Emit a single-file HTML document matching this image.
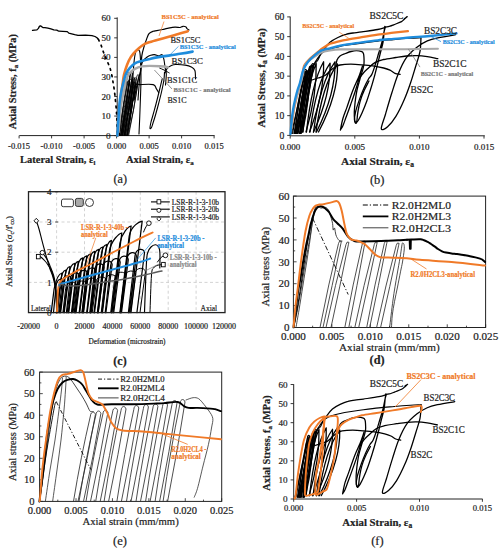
<!DOCTYPE html>
<html><head><meta charset="utf-8"><style>
html,body{margin:0;padding:0;background:#fff;}
svg{display:block;}
text{font-family:"Liberation Serif",serif;}
</style></head><body>
<svg width="503" height="550" viewBox="0 0 503 550">
<rect width="503" height="550" fill="#fff"/>
<line x1="19.30" y1="135.60" x2="214.60" y2="135.60" stroke="#222" stroke-width="1.0" />
<line x1="19.10" y1="135.60" x2="19.10" y2="138.40" stroke="#222" stroke-width="0.9" />
<line x1="51.60" y1="135.60" x2="51.60" y2="138.40" stroke="#222" stroke-width="0.9" />
<line x1="84.10" y1="135.60" x2="84.10" y2="138.40" stroke="#222" stroke-width="0.9" />
<line x1="116.60" y1="135.60" x2="116.60" y2="138.40" stroke="#222" stroke-width="0.9" />
<line x1="149.10" y1="135.60" x2="149.10" y2="138.40" stroke="#222" stroke-width="0.9" />
<line x1="181.60" y1="135.60" x2="181.60" y2="138.40" stroke="#222" stroke-width="0.9" />
<line x1="214.10" y1="135.60" x2="214.10" y2="138.40" stroke="#222" stroke-width="0.9" />
<line x1="117.20" y1="17.40" x2="117.20" y2="135.60" stroke="#222" stroke-width="1.0" />
<line x1="114.20" y1="135.60" x2="117.20" y2="135.60" stroke="#222" stroke-width="0.9" />
<text x="110.60" y="138.60" font-family="Liberation Serif" font-size="9.2" text-anchor="end" font-weight="normal" fill="#222" stroke="#222" stroke-width="0.2" >0</text>
<line x1="114.20" y1="116.05" x2="117.20" y2="116.05" stroke="#222" stroke-width="0.9" />
<text x="110.60" y="119.05" font-family="Liberation Serif" font-size="9.2" text-anchor="end" font-weight="normal" fill="#222" stroke="#222" stroke-width="0.2" >10</text>
<line x1="114.20" y1="96.50" x2="117.20" y2="96.50" stroke="#222" stroke-width="0.9" />
<text x="110.60" y="99.50" font-family="Liberation Serif" font-size="9.2" text-anchor="end" font-weight="normal" fill="#222" stroke="#222" stroke-width="0.2" >20</text>
<line x1="114.20" y1="76.95" x2="117.20" y2="76.95" stroke="#222" stroke-width="0.9" />
<text x="110.60" y="79.95" font-family="Liberation Serif" font-size="9.2" text-anchor="end" font-weight="normal" fill="#222" stroke="#222" stroke-width="0.2" >30</text>
<line x1="114.20" y1="57.40" x2="117.20" y2="57.40" stroke="#222" stroke-width="0.9" />
<text x="110.60" y="60.40" font-family="Liberation Serif" font-size="9.2" text-anchor="end" font-weight="normal" fill="#222" stroke="#222" stroke-width="0.2" >40</text>
<line x1="114.20" y1="37.85" x2="117.20" y2="37.85" stroke="#222" stroke-width="0.9" />
<text x="110.60" y="40.85" font-family="Liberation Serif" font-size="9.2" text-anchor="end" font-weight="normal" fill="#222" stroke="#222" stroke-width="0.2" >50</text>
<line x1="114.20" y1="18.30" x2="117.20" y2="18.30" stroke="#222" stroke-width="0.9" />
<text x="110.60" y="21.30" font-family="Liberation Serif" font-size="9.2" text-anchor="end" font-weight="normal" fill="#222" stroke="#222" stroke-width="0.2" >60</text>
<text x="19.10" y="148.60" font-family="Liberation Serif" font-size="8.5" text-anchor="middle" font-weight="normal" fill="#222" stroke="#222" stroke-width="0.2" >-0.015</text>
<text x="51.60" y="148.60" font-family="Liberation Serif" font-size="8.5" text-anchor="middle" font-weight="normal" fill="#222" stroke="#222" stroke-width="0.2" >-0.010</text>
<text x="84.10" y="148.60" font-family="Liberation Serif" font-size="8.5" text-anchor="middle" font-weight="normal" fill="#222" stroke="#222" stroke-width="0.2" >-0.005</text>
<text x="116.60" y="148.60" font-family="Liberation Serif" font-size="8.5" text-anchor="middle" font-weight="normal" fill="#222" stroke="#222" stroke-width="0.2" >0.000</text>
<text x="149.10" y="148.60" font-family="Liberation Serif" font-size="8.5" text-anchor="middle" font-weight="normal" fill="#222" stroke="#222" stroke-width="0.2" >0.005</text>
<text x="181.60" y="148.60" font-family="Liberation Serif" font-size="8.5" text-anchor="middle" font-weight="normal" fill="#222" stroke="#222" stroke-width="0.2" >0.010</text>
<text x="214.10" y="148.60" font-family="Liberation Serif" font-size="8.5" text-anchor="middle" font-weight="normal" fill="#222" stroke="#222" stroke-width="0.2" >0.015</text>
<text x="20.00" y="163.20" font-family="Liberation Serif" font-size="10.5" text-anchor="start" font-weight="bold" fill="#222" stroke="#222" stroke-width="0.2" >Lateral Strain, ε<tspan font-size="7" dy="1.8">l</tspan></text>
<text x="126.00" y="163.20" font-family="Liberation Serif" font-size="10.5" text-anchor="start" font-weight="bold" fill="#222" stroke="#222" stroke-width="0.2" >Axial Strain, ε<tspan font-size="7" dy="1.8">a</tspan></text>
<text x="120.20" y="183.20" font-family="Liberation Serif" font-size="12.2" text-anchor="middle" font-weight="normal" fill="#222" stroke="#222" stroke-width="0.2" >(a)</text>
<text transform="translate(16.0,81.7) rotate(-90)" font-family="Liberation Serif" font-size="10.35" font-weight="bold" text-anchor="middle" fill="#222" stroke="#222" stroke-width="0.2">Axial Stress, f<tspan font-size="7" dy="1.8">a</tspan><tspan dy="-1.8"> (MPa)</tspan></text>
<polyline points="32.5,30.4 34.5,30.1 36.9,29.9 38.4,28.4 39.4,26.4 40.4,25.8 41.4,26.4 42.9,27.6 44.9,27.6 47.9,28.2 50.9,28.9 53.8,29.9 56.8,30.1 58.8,31.2 62.8,31.4 67.3,31.6 68.8,33.1 71.7,33.9 74.7,34.7 78.0,35.4 85.5,35.2 92.0,35.6 95.0,36.5 97.0,37.8 98.5,39.5" fill="none" stroke="#000" stroke-width="1.3" stroke-linejoin="round" stroke-linecap="round" />
<path d="M98.5,39.5 C98.9,40.4 100.2,43.1 101.0,45.0 C101.8,46.9 102.3,49.2 103.0,51.0 C103.7,52.8 104.2,54.0 105.0,56.0 C105.8,58.0 107.2,61.0 108.0,63.0 C108.8,65.0 109.3,65.8 110.0,68.0 C110.7,70.2 111.5,73.7 112.0,76.0 C112.5,78.3 112.7,80.0 113.0,82.0 C113.3,84.0 113.7,85.7 114.0,88.0 C114.3,90.3 114.7,93.0 115.0,96.0 C115.3,99.0 115.7,103.0 116.0,106.0 C116.3,109.0 116.4,111.3 116.6,114.0 C116.8,116.7 116.9,118.7 117.0,122.0 C117.1,125.3 117.3,132.0 117.4,134.0" fill="none" stroke="#000" stroke-width="1.7" stroke-linejoin="round" stroke-linecap="round" stroke-dasharray="1.7,4.6" stroke-linecap="butt"/>
<path d="M117.7,135.4 Q123.1,108.1 128.0,81.9 Q129.0,80.1 130.0,81.9 Q125.1,111.1 119.5,135.4" fill="none" stroke="#000" stroke-width="0.8" stroke-linejoin="round" stroke-linecap="round" />
<path d="M118.7,135.4 Q124.4,107.3 129.7,80.2 Q130.7,78.4 131.7,80.2 Q126.5,110.3 120.6,135.4" fill="none" stroke="#000" stroke-width="0.8" stroke-linejoin="round" stroke-linecap="round" />
<path d="M119.2,135.4 Q122.9,107.8 127.7,81.2 Q128.7,79.4 129.7,81.2 Q125.9,110.8 120.5,135.4" fill="none" stroke="#000" stroke-width="0.8" stroke-linejoin="round" stroke-linecap="round" />
<path d="M119.3,135.4 Q123.4,104.0 127.8,73.6 Q128.8,71.8 129.8,73.6 Q126.7,107.0 121.9,135.4" fill="none" stroke="#000" stroke-width="0.8" stroke-linejoin="round" stroke-linecap="round" />
<path d="M120.8,135.4 Q125.7,103.9 130.7,73.5 Q131.7,71.7 132.7,73.5 Q128.2,106.9 122.5,135.4" fill="none" stroke="#000" stroke-width="0.8" stroke-linejoin="round" stroke-linecap="round" />
<path d="M121.1,135.4 Q126.4,106.3 132.6,78.2 Q133.6,76.4 134.6,78.2 Q129.4,109.3 122.5,135.4" fill="none" stroke="#000" stroke-width="0.8" stroke-linejoin="round" stroke-linecap="round" />
<path d="M121.5,135.4 Q127.5,106.9 133.1,79.3 Q134.1,77.5 135.1,79.3 Q129.7,109.9 123.5,135.4" fill="none" stroke="#000" stroke-width="0.8" stroke-linejoin="round" stroke-linecap="round" />
<path d="M122.1,135.4 Q126.6,104.0 130.3,73.5 Q131.3,71.7 132.3,73.5 Q128.8,107.0 124.5,135.4" fill="none" stroke="#000" stroke-width="0.8" stroke-linejoin="round" stroke-linecap="round" />
<path d="M122.9,135.4 Q126.9,110.5 131.2,86.6 Q132.2,84.8 133.2,86.6 Q130.2,113.5 125.4,135.4" fill="none" stroke="#000" stroke-width="0.8" stroke-linejoin="round" stroke-linecap="round" />
<path d="M124.1,135.4 Q128.8,108.8 133.7,83.2 Q134.7,81.4 135.7,83.2 Q131.1,111.8 125.5,135.4" fill="none" stroke="#000" stroke-width="0.8" stroke-linejoin="round" stroke-linecap="round" />
<path d="M124.3,135.4 Q128.6,110.2 132.5,85.9 Q133.5,84.1 134.5,85.9 Q131.1,113.2 126.7,135.4" fill="none" stroke="#000" stroke-width="0.8" stroke-linejoin="round" stroke-linecap="round" />
<path d="M124.6,135.4 Q129.6,106.4 134.1,78.4 Q135.1,76.6 136.1,78.4 Q132.2,109.4 127.2,135.4" fill="none" stroke="#000" stroke-width="0.8" stroke-linejoin="round" stroke-linecap="round" />
<path d="M125.0,135.4 Q129.1,108.7 132.8,83.1 Q133.8,81.3 134.8,83.1 Q131.8,111.7 127.6,135.4" fill="none" stroke="#000" stroke-width="0.8" stroke-linejoin="round" stroke-linecap="round" />
<path d="M126.5,135.4 Q131.0,108.9 136.0,83.5 Q137.0,81.7 138.0,83.5 Q133.7,111.9 128.0,135.4" fill="none" stroke="#000" stroke-width="0.8" stroke-linejoin="round" stroke-linecap="round" />
<path d="M127.2,135.4 Q132.1,105.0 137.0,75.5 Q138.0,73.7 139.0,75.5 Q134.3,108.0 128.7,135.4" fill="none" stroke="#000" stroke-width="0.8" stroke-linejoin="round" stroke-linecap="round" />
<path d="M134.0,100.0 C134.7,96.7 136.9,84.8 138.0,80.0 C139.1,75.2 140.0,75.3 140.6,71.3 C141.2,67.3 141.2,60.0 141.8,55.8 C142.4,51.6 143.4,49.0 144.2,46.2 C145.0,43.4 145.8,41.2 146.6,39.1 C147.4,37.0 147.9,35.0 149.0,33.7 C150.1,32.4 151.9,31.8 153.2,31.3 C154.5,30.8 155.2,31.0 156.8,30.7 C158.4,30.4 160.9,29.9 162.7,29.5 C164.5,29.1 165.4,28.8 167.5,28.4 C169.6,28.0 172.9,27.3 175.0,27.2 C177.1,27.1 178.7,27.6 180.0,27.5 C181.3,27.4 182.0,26.4 183.0,26.3 C184.0,26.2 185.3,26.5 186.0,26.9 C186.7,27.3 186.5,28.2 187.0,28.7 C187.5,29.2 188.7,29.8 189.0,30.0" fill="none" stroke="#000" stroke-width="1.2" stroke-linejoin="round" stroke-linecap="round" />
<path d="M130.0,120.0 C130.5,112.5 132.2,85.3 133.0,75.0 C133.8,64.7 133.9,62.2 134.5,58.0 C135.1,53.8 135.7,51.2 136.5,50.0 C137.3,48.8 138.8,49.3 139.5,51.0 C140.2,52.7 140.2,55.2 140.5,60.0 C140.8,64.8 141.1,71.7 141.0,80.0 C140.9,88.3 140.3,101.0 140.0,110.0 C139.7,119.0 139.2,130.0 139.0,134.0" fill="none" stroke="#000" stroke-width="1.1" stroke-linejoin="round" stroke-linecap="round" />
<path d="M138.0,100.0 C138.3,95.8 139.3,81.3 140.0,75.0 C140.7,68.7 141.2,65.0 142.4,62.0 C143.6,59.0 145.8,58.1 147.2,57.0 C148.6,55.9 149.6,55.6 150.8,55.2 C152.0,54.8 153.0,54.5 154.4,54.6 C155.8,54.7 157.8,55.8 159.1,55.8 C160.4,55.8 161.3,54.0 162.1,54.6 C162.9,55.2 163.4,57.2 163.9,59.4 C164.4,61.6 164.7,65.3 165.1,67.7 C165.5,70.1 166.2,70.8 166.3,73.7 C166.4,76.6 165.6,83.1 165.5,85.0" fill="none" stroke="#000" stroke-width="1.1" stroke-linejoin="round" stroke-linecap="round" />
<path d="M165.0,72.9 C165.4,72.1 166.4,69.3 167.4,68.1 C168.4,66.9 169.6,66.3 171.0,65.7 C172.4,65.1 173.4,64.6 175.8,64.5 C178.2,64.4 182.7,64.7 185.3,65.1 C187.9,65.5 189.7,66.0 191.3,66.9 C192.9,67.8 194.2,68.5 194.9,70.5 C195.6,72.5 195.4,77.5 195.5,78.9" fill="none" stroke="#000" stroke-width="1.1" stroke-linejoin="round" stroke-linecap="round" />
<path d="M159.7,68.1 C160.4,68.4 162.4,69.2 164.0,70.0 C165.6,70.8 168.3,72.4 169.2,72.9" fill="none" stroke="#000" stroke-width="1.0" stroke-linejoin="round" stroke-linecap="round" />
<path d="M134.0,100.0 C134.3,97.6 134.7,88.0 135.7,85.4 C136.7,82.8 137.1,84.7 140.0,84.6 C142.9,84.5 150.5,83.9 153.2,84.6 C155.9,85.3 155.4,87.3 156.3,88.6 C157.2,89.9 158.3,91.9 158.7,92.6" fill="none" stroke="#000" stroke-width="1.1" stroke-linejoin="round" stroke-linecap="round" />
<path d="M162.2,78.9 C161.7,81.1 160.0,87.8 159.0,92.0 C158.0,96.2 157.0,100.2 156.0,104.0 C155.0,107.8 153.8,112.0 153.0,115.0 C152.2,118.0 151.5,119.8 151.0,122.0 C150.5,124.2 149.9,127.5 150.0,128.4 C150.1,129.3 151.0,128.4 151.5,127.5 C152.0,126.6 152.3,125.1 153.0,123.0 C153.7,120.9 154.6,118.2 155.5,115.0 C156.4,111.8 157.5,107.8 158.5,104.0 C159.5,100.2 160.6,96.0 161.5,92.0 C162.4,88.0 163.4,83.3 163.9,80.0 C164.4,76.7 164.4,73.3 164.5,72.0" fill="none" stroke="#000" stroke-width="1.1" stroke-linejoin="round" stroke-linecap="round" />
<path d="M117.6,135.6 C117.7,133.8 118.0,128.6 118.3,125.0 C118.5,121.4 118.8,117.5 119.1,114.0 C119.4,110.5 119.7,107.2 120.0,104.0 C120.3,100.8 120.6,98.2 121.0,95.0 C121.4,91.8 122.0,88.4 122.5,85.0 C123.0,81.6 123.2,78.1 124.0,74.8 C124.8,71.5 125.8,67.9 127.0,64.9 C128.2,61.9 129.4,59.2 130.9,56.9 C132.4,54.6 133.9,53.0 135.9,51.0 C137.9,49.0 140.6,46.5 142.9,45.0 C145.2,43.5 146.7,43.1 150.0,42.0 C153.3,40.9 158.5,39.6 162.7,38.4 C166.9,37.2 170.8,36.2 175.0,35.0 C179.2,33.8 185.7,31.8 187.8,31.2" fill="none" stroke="#F07A28" stroke-width="2.6" stroke-linejoin="round" stroke-linecap="round" />
<path d="M118.5,132.0 C118.8,129.2 119.5,119.8 120.0,115.0 C120.5,110.2 121.0,106.3 121.5,103.0 C122.0,99.7 122.5,97.5 123.0,95.0 C123.5,92.5 124.1,90.5 124.6,88.0 C125.1,85.5 125.1,82.3 126.0,79.8 C126.9,77.3 128.4,74.6 129.9,72.8 C131.4,71.0 132.9,70.0 134.9,68.9 C136.9,67.8 139.4,66.9 141.9,66.4 C144.4,65.9 146.8,65.9 149.8,65.9 C152.8,65.9 157.0,66.1 160.0,66.3 C163.0,66.5 166.7,67.0 168.0,67.2" fill="none" stroke="#A8A8A8" stroke-width="2.4" stroke-linejoin="round" stroke-linecap="round" />
<path d="M117.4,135.6 C117.5,133.9 117.8,128.9 118.0,125.5 C118.2,122.1 118.5,118.9 118.7,115.3 C119.0,111.7 119.1,107.3 119.5,103.7 C119.9,100.1 120.3,96.8 120.9,93.5 C121.5,90.2 122.2,87.3 123.0,84.0 C123.8,80.7 124.8,76.5 126.0,73.8 C127.2,71.1 128.4,69.6 129.9,67.9 C131.4,66.2 133.2,64.5 134.9,63.4 C136.6,62.3 137.4,62.1 139.9,61.4 C142.4,60.6 146.5,59.6 149.8,58.9 C153.1,58.1 156.4,57.5 159.8,56.9 C163.2,56.3 166.6,55.9 170.0,55.4 C173.4,54.9 176.2,54.4 180.0,53.8 C183.8,53.2 190.5,52.0 192.6,51.6" fill="none" stroke="#1E8CDC" stroke-width="2.6" stroke-linejoin="round" stroke-linecap="round" />
<line x1="164.00" y1="21.50" x2="159.00" y2="36.00" stroke="#F07A28" stroke-width="0.7" />
<line x1="178.50" y1="46.30" x2="168.60" y2="56.20" stroke="#1E8CDC" stroke-width="0.7" />
<line x1="154.40" y1="70.00" x2="172.00" y2="89.00" stroke="#666" stroke-width="0.7" />
<text x="161.50" y="19.20" font-family="Liberation Serif" font-size="6.6" text-anchor="start" font-weight="bold" fill="#F07A28" stroke="#F07A28" stroke-width="0.2" textLength="57.3" lengthAdjust="spacingAndGlyphs" >BS1C5C - analytical</text>
<text x="179.70" y="48.80" font-family="Liberation Serif" font-size="6.6" text-anchor="start" font-weight="bold" fill="#1E8CDC" stroke="#1E8CDC" stroke-width="0.2" textLength="56" lengthAdjust="spacingAndGlyphs" >BS1C3C - analytical</text>
<text x="173.50" y="91.60" font-family="Liberation Serif" font-size="6.6" text-anchor="start" font-weight="bold" fill="#777" stroke="#777" stroke-width="0.2" textLength="57.2" lengthAdjust="spacingAndGlyphs" >BS1C1C - analytical</text>
<text x="170.40" y="42.80" font-family="Liberation Serif" font-size="8.6" text-anchor="start" font-weight="normal" fill="#222" stroke="#222" stroke-width="0.2" textLength="30" lengthAdjust="spacingAndGlyphs" >BS1C5C</text>
<text x="171.60" y="63.60" font-family="Liberation Serif" font-size="8.6" text-anchor="start" font-weight="normal" fill="#222" stroke="#222" stroke-width="0.2" textLength="31.2" lengthAdjust="spacingAndGlyphs" >BS1C3C</text>
<text x="167.00" y="82.70" font-family="Liberation Serif" font-size="8.6" text-anchor="start" font-weight="normal" fill="#222" stroke="#222" stroke-width="0.2" textLength="30.3" lengthAdjust="spacingAndGlyphs" >BS1C1C</text>
<text x="167.50" y="103.20" font-family="Liberation Serif" font-size="8.6" text-anchor="start" font-weight="normal" fill="#222" stroke="#222" stroke-width="0.2" textLength="19.1" lengthAdjust="spacingAndGlyphs" >BS1C</text>
<line x1="290.20" y1="135.80" x2="484.80" y2="135.80" stroke="#222" stroke-width="1.0" />
<line x1="290.20" y1="135.80" x2="290.20" y2="138.60" stroke="#222" stroke-width="0.9" />
<line x1="354.80" y1="135.80" x2="354.80" y2="138.60" stroke="#222" stroke-width="0.9" />
<line x1="419.40" y1="135.80" x2="419.40" y2="138.60" stroke="#222" stroke-width="0.9" />
<line x1="484.00" y1="135.80" x2="484.00" y2="138.60" stroke="#222" stroke-width="0.9" />
<line x1="290.20" y1="16.60" x2="290.20" y2="135.80" stroke="#222" stroke-width="1.0" />
<line x1="287.20" y1="135.40" x2="290.20" y2="135.40" stroke="#222" stroke-width="0.9" />
<text x="284.30" y="138.60" font-family="Liberation Serif" font-size="9.6" text-anchor="end" font-weight="normal" fill="#222" stroke="#222" stroke-width="0.2" >0</text>
<line x1="287.20" y1="115.65" x2="290.20" y2="115.65" stroke="#222" stroke-width="0.9" />
<text x="284.30" y="118.85" font-family="Liberation Serif" font-size="9.6" text-anchor="end" font-weight="normal" fill="#222" stroke="#222" stroke-width="0.2" >10</text>
<line x1="287.20" y1="95.90" x2="290.20" y2="95.90" stroke="#222" stroke-width="0.9" />
<text x="284.30" y="99.10" font-family="Liberation Serif" font-size="9.6" text-anchor="end" font-weight="normal" fill="#222" stroke="#222" stroke-width="0.2" >20</text>
<line x1="287.20" y1="76.15" x2="290.20" y2="76.15" stroke="#222" stroke-width="0.9" />
<text x="284.30" y="79.35" font-family="Liberation Serif" font-size="9.6" text-anchor="end" font-weight="normal" fill="#222" stroke="#222" stroke-width="0.2" >30</text>
<line x1="287.20" y1="56.40" x2="290.20" y2="56.40" stroke="#222" stroke-width="0.9" />
<text x="284.30" y="59.60" font-family="Liberation Serif" font-size="9.6" text-anchor="end" font-weight="normal" fill="#222" stroke="#222" stroke-width="0.2" >40</text>
<line x1="287.20" y1="36.65" x2="290.20" y2="36.65" stroke="#222" stroke-width="0.9" />
<text x="284.30" y="39.85" font-family="Liberation Serif" font-size="9.6" text-anchor="end" font-weight="normal" fill="#222" stroke="#222" stroke-width="0.2" >50</text>
<line x1="287.20" y1="16.90" x2="290.20" y2="16.90" stroke="#222" stroke-width="0.9" />
<text x="284.30" y="20.10" font-family="Liberation Serif" font-size="9.6" text-anchor="end" font-weight="normal" fill="#222" stroke="#222" stroke-width="0.2" >60</text>
<text x="290.20" y="149.80" font-family="Liberation Serif" font-size="9" text-anchor="middle" font-weight="normal" fill="#222" stroke="#222" stroke-width="0.2" >0.000</text>
<text x="354.80" y="149.80" font-family="Liberation Serif" font-size="9" text-anchor="middle" font-weight="normal" fill="#222" stroke="#222" stroke-width="0.2" >0.005</text>
<text x="419.40" y="149.80" font-family="Liberation Serif" font-size="9" text-anchor="middle" font-weight="normal" fill="#222" stroke="#222" stroke-width="0.2" >0.010</text>
<text x="484.00" y="149.80" font-family="Liberation Serif" font-size="9" text-anchor="middle" font-weight="normal" fill="#222" stroke="#222" stroke-width="0.2" >0.015</text>
<text x="341.00" y="164.80" font-family="Liberation Serif" font-size="11.3" text-anchor="start" font-weight="bold" fill="#222" stroke="#222" stroke-width="0.2" >Axial Strain, ε<tspan font-size="7.5" dy="1.8">a</tspan></text>
<text x="377.20" y="184.00" font-family="Liberation Serif" font-size="12.5" text-anchor="middle" font-weight="normal" fill="#222" stroke="#222" stroke-width="0.2" >(b)</text>
<text transform="translate(265.4,77.8) rotate(-90)" font-family="Liberation Serif" font-size="10.8" font-weight="bold" text-anchor="middle" fill="#222" stroke="#222" stroke-width="0.2">Axial Stress, f<tspan font-size="7.5" dy="1.8">a</tspan><tspan dy="-1.8"> (MPa)</tspan></text>
<g id="bk">
<path d="M291.5,133.5 Q298.3,102.5 305.6,72.4 Q306.6,70.6 307.6,72.4 Q302.0,105.5 294.2,133.5" fill="none" stroke="#000" stroke-width="1.15" stroke-linejoin="round" stroke-linecap="round" />
<path d="M292.6,133.5 Q297.7,104.8 303.1,77.1 Q304.1,75.3 305.1,77.1 Q301.2,107.8 295.3,133.5" fill="none" stroke="#000" stroke-width="1.15" stroke-linejoin="round" stroke-linecap="round" />
<path d="M294.1,133.5 Q298.9,102.3 304.4,72.1 Q305.4,70.3 306.4,72.1 Q301.8,105.3 295.6,133.5" fill="none" stroke="#000" stroke-width="1.15" stroke-linejoin="round" stroke-linecap="round" />
<path d="M294.8,133.5 Q298.9,101.4 304.6,70.4 Q305.6,68.6 306.6,70.4 Q302.7,104.4 296.3,133.5" fill="none" stroke="#000" stroke-width="1.15" stroke-linejoin="round" stroke-linecap="round" />
<path d="M295.9,133.5 Q300.7,102.1 306.4,71.8 Q307.4,70.0 308.4,71.8 Q303.6,105.1 297.2,133.5" fill="none" stroke="#000" stroke-width="1.15" stroke-linejoin="round" stroke-linecap="round" />
<path d="M296.4,133.5 Q301.3,102.4 306.1,72.4 Q307.1,70.6 308.1,72.4 Q303.3,105.4 297.8,133.5" fill="none" stroke="#000" stroke-width="1.15" stroke-linejoin="round" stroke-linecap="round" />
<path d="M297.1,133.5 Q304.5,98.5 311.9,64.5 Q312.9,62.7 313.9,64.5 Q307.7,101.5 299.9,133.5" fill="none" stroke="#000" stroke-width="1.15" stroke-linejoin="round" stroke-linecap="round" />
<path d="M298.1,133.5 Q303.0,101.3 309.2,70.1 Q310.2,68.3 311.2,70.1 Q307.1,104.3 300.3,133.5" fill="none" stroke="#000" stroke-width="1.15" stroke-linejoin="round" stroke-linecap="round" />
<path d="M299.6,133.5 Q305.3,99.2 310.7,65.9 Q311.7,64.1 312.7,65.9 Q307.1,102.2 300.9,133.5" fill="none" stroke="#000" stroke-width="1.15" stroke-linejoin="round" stroke-linecap="round" />
<path d="M300.1,133.5 Q305.0,99.6 311.1,66.7 Q312.1,64.9 313.1,66.7 Q308.1,102.6 301.1,133.5" fill="none" stroke="#000" stroke-width="1.15" stroke-linejoin="round" stroke-linecap="round" />
<path d="M300.0,132.0 Q302.9,86.2 309.7,66.5 Q310.5,96.0 302.5,132.0" fill="none" stroke="#000" stroke-width="1.3" stroke-linejoin="round" stroke-linecap="round" />
<path d="M303.0,132.0 Q307.0,84.0 316.2,63.5 Q317.0,94.3 306.0,132.0" fill="none" stroke="#000" stroke-width="1.3" stroke-linejoin="round" stroke-linecap="round" />
<path d="M306.5,132.0 Q311.6,82.9 323.6,61.8 Q324.4,93.4 309.5,132.0" fill="none" stroke="#000" stroke-width="1.3" stroke-linejoin="round" stroke-linecap="round" />
<path d="M310.0,132.0 Q316.0,83.8 330.1,63.2 Q330.9,94.2 313.5,132.0" fill="none" stroke="#000" stroke-width="1.3" stroke-linejoin="round" stroke-linecap="round" />
<path d="M313.5,132.0 Q319.9,82.9 335.0,61.8 Q335.8,93.4 316.5,132.0" fill="none" stroke="#000" stroke-width="1.3" stroke-linejoin="round" stroke-linecap="round" />
<path d="M316.0,132.0 Q322.4,84.4 337.5,64.0 Q338.3,94.6 318.5,132.0" fill="none" stroke="#000" stroke-width="1.3" stroke-linejoin="round" stroke-linecap="round" />
<path d="M312.0,68.0 C312.5,67.2 314.0,64.8 315.0,63.5 C316.0,62.2 317.0,61.6 318.0,60.0 C319.0,58.4 319.7,55.6 321.0,54.0 C322.3,52.4 324.5,51.4 326.0,50.5 C327.5,49.6 328.0,49.5 330.0,48.9 C332.0,48.3 335.2,47.5 337.9,46.9 C340.5,46.3 341.9,45.9 345.9,45.3 C349.9,44.7 356.5,43.8 361.8,43.1 C367.1,42.4 372.4,41.7 377.7,41.1 C383.0,40.5 388.2,40.1 393.6,39.6 C399.0,39.1 405.4,38.6 410.0,38.3 C414.6,38.0 419.2,37.9 421.0,37.8" fill="none" stroke="#000" stroke-width="1.1" stroke-linejoin="round" stroke-linecap="round" />
<path d="M313.0,66.0 C313.4,65.2 314.7,62.8 315.5,61.5 C316.3,60.2 316.6,59.9 318.0,58.0 C319.4,56.1 321.6,52.6 323.6,50.0 C325.6,47.4 327.6,44.4 330.0,42.3 C332.4,40.2 335.2,38.8 337.9,37.5 C340.5,36.2 343.4,35.0 345.9,34.3 C348.4,33.5 350.4,33.4 353.0,33.0 C355.6,32.6 357.7,32.5 361.8,31.9 C365.9,31.3 373.7,30.3 377.7,29.5 C381.7,28.7 383.6,27.8 385.6,27.2 C387.7,26.6 388.7,26.6 390.0,26.2 C391.3,25.8 391.7,25.6 393.6,24.8 C395.5,24.0 399.8,22.5 401.5,21.6 C403.2,20.7 403.1,20.3 404.0,19.5 C404.9,18.7 407.1,16.9 407.2,16.7 C407.3,16.5 404.9,18.2 404.5,18.5" fill="none" stroke="#000" stroke-width="1.3" stroke-linejoin="round" stroke-linecap="round" />
<path d="M384.8,26.5 C384.7,27.2 384.5,28.4 384.2,31.0 C383.9,33.5 383.7,38.2 383.1,41.8 C382.5,45.4 381.3,49.1 380.4,52.8 C379.5,56.4 378.6,60.1 377.7,63.7 C376.8,67.3 376.0,70.5 374.9,74.6 C373.8,78.6 372.4,83.6 371.0,88.0 C369.6,92.4 368.3,96.8 366.8,101.0 C365.3,105.2 363.4,109.8 362.0,113.0 C360.6,116.2 359.4,118.4 358.5,120.0 C357.6,121.6 357.0,122.4 356.3,122.4 C355.6,122.4 354.6,121.7 354.5,120.0 C354.4,118.3 354.7,115.4 355.5,112.0 C356.3,108.6 358.1,103.4 359.5,99.4 C360.9,95.4 362.5,91.4 364.0,88.0 C365.5,84.6 367.2,81.2 368.5,79.0 C369.8,76.8 370.6,76.8 371.7,74.6 C372.8,72.4 373.7,69.5 374.9,65.9 C376.1,62.3 377.6,56.8 378.8,52.8 C380.0,48.8 381.1,45.3 382.0,41.8 C382.9,38.3 383.4,34.5 384.0,32.0 C384.6,29.5 385.1,27.8 385.3,27.0" fill="none" stroke="#000" stroke-width="1.3" stroke-linejoin="round" stroke-linecap="round" />
<path d="M335.5,68.0 C335.8,66.7 336.2,62.0 337.0,60.0 C337.8,58.0 338.6,57.1 340.0,56.0 C341.4,54.9 343.7,54.2 345.5,53.5 C347.3,52.8 349.2,52.0 351.0,51.5 C352.8,51.0 354.6,50.6 356.4,50.6 C358.2,50.6 360.6,51.2 361.8,51.7 C363.0,52.2 363.1,52.7 363.5,53.8 C363.9,54.9 363.9,56.6 364.0,58.2 C364.1,59.9 364.2,61.9 364.0,63.7 C363.8,65.5 363.3,67.3 362.9,69.1 C362.4,70.9 361.8,72.8 361.3,74.6 C360.8,76.4 360.4,77.4 359.7,80.0 C359.0,82.6 357.8,86.3 357.0,90.0 C356.2,93.7 355.6,98.5 355.1,102.2 C354.7,105.9 354.4,109.0 354.3,112.0 C354.2,115.0 354.4,118.1 354.6,120.0 C354.8,121.9 355.2,123.0 355.6,123.2 C356.0,123.5 356.5,123.0 356.8,121.5 C357.1,120.0 357.2,116.8 357.6,114.0 C358.0,111.2 358.6,107.8 359.2,105.0 C359.8,102.2 360.7,99.4 361.5,97.0 C362.3,94.6 362.8,93.5 364.0,90.8 C365.2,88.1 368.2,82.6 369.0,81.0" fill="none" stroke="#000" stroke-width="1.3" stroke-linejoin="round" stroke-linecap="round" />
<path d="M340.4,130.0 C340.8,128.1 341.8,122.3 342.9,118.5 C344.0,114.7 345.4,111.7 347.0,107.1 C348.6,102.5 350.8,95.7 352.7,90.8 C354.6,85.9 356.9,81.3 358.4,77.7 C359.9,74.1 360.8,71.0 361.5,69.0 C362.2,67.0 362.5,65.8 362.5,66.0 C362.5,66.2 362.1,67.8 361.5,70.0 C360.9,72.2 360.1,75.3 359.0,79.0 C357.9,82.7 356.4,87.7 355.0,92.0 C353.6,96.3 351.9,101.0 350.5,105.0 C349.1,109.0 347.8,112.6 346.5,116.0 C345.2,119.4 344.0,123.2 343.0,125.5 C342.0,127.8 340.8,129.2 340.4,130.0" fill="none" stroke="#000" stroke-width="1.3" stroke-linejoin="round" stroke-linecap="round" />
<path d="M312.0,80.0 C313.0,79.7 315.8,78.8 318.0,78.0 C320.2,77.2 322.8,76.8 325.0,75.5 C327.2,74.2 329.3,71.4 331.0,70.0 C332.7,68.6 333.9,67.8 335.4,67.0 C336.9,66.2 337.4,65.5 340.0,65.0 C342.6,64.5 347.3,64.2 350.9,64.2 C354.5,64.2 358.1,64.5 361.8,64.8 C365.5,65.1 369.2,65.4 372.8,65.9 C376.4,66.4 380.8,67.3 383.7,68.0 C386.6,68.7 388.1,69.3 390.0,70.2 C391.9,71.1 393.3,72.6 395.0,73.3 C396.7,74.0 399.2,74.2 400.1,74.4" fill="none" stroke="#000" stroke-width="1.3" stroke-linejoin="round" stroke-linecap="round" />
<path d="M455.6,34.7 C452.6,35.2 442.5,36.8 437.8,37.8 C433.1,38.8 430.8,39.3 427.3,40.9 C423.8,42.5 420.4,44.4 416.9,47.2 C413.4,50.0 409.5,53.2 406.4,57.7 C403.2,62.2 400.4,68.5 398.0,74.4 C395.6,80.3 393.8,86.7 391.7,93.3 C389.6,99.9 387.2,108.3 385.5,114.2 C383.8,120.1 380.9,126.7 381.3,128.8 C381.7,130.9 385.2,128.8 387.6,126.7 C390.0,124.6 393.1,120.8 395.9,116.3 C398.7,111.8 401.9,105.1 404.3,99.5 C406.8,93.9 408.7,88.4 410.6,82.8 C412.5,77.2 414.2,71.2 415.8,66.0 C417.4,60.8 419.1,56.1 420.0,51.4 C420.9,46.7 420.8,40.1 421.0,37.8" fill="none" stroke="#000" stroke-width="1.3" stroke-linejoin="round" stroke-linecap="round" />
<path d="M358.6,79.0 C359.3,78.1 361.6,75.2 363.0,73.5 C364.4,71.8 365.3,70.9 367.3,69.1 C369.3,67.3 372.2,64.2 374.9,62.6 C377.6,61.0 380.2,60.4 383.7,59.5 C387.2,58.6 392.1,58.1 395.9,57.5 C399.7,56.9 402.9,56.3 406.4,56.0 C409.9,55.7 413.4,55.5 416.9,55.6 C420.4,55.7 423.8,56.1 427.3,56.6 C430.8,57.1 436.1,58.4 437.8,58.7" fill="none" stroke="#000" stroke-width="1.3" stroke-linejoin="round" stroke-linecap="round" />
</g>
<path d="M291.5,128.0 C291.9,125.0 292.9,115.2 293.8,110.0 C294.7,104.8 295.7,100.8 296.6,97.0 C297.6,93.2 298.6,90.7 299.5,87.0 C300.4,83.3 301.5,78.6 302.3,75.0 C303.1,71.4 303.0,68.4 304.3,65.6 C305.6,62.8 308.1,60.6 310.3,58.4 C312.5,56.2 315.3,54.1 317.4,52.4 C319.5,50.7 320.9,49.4 323.0,48.0 C325.1,46.6 327.5,44.8 330.0,43.8 C332.5,42.8 335.2,42.4 337.9,41.7 C340.5,41.1 341.9,40.6 345.9,39.9 C349.9,39.1 356.5,38.1 361.8,37.2 C367.1,36.3 372.4,35.4 377.7,34.6 C383.0,33.9 388.6,33.3 393.6,32.7 C398.6,32.1 405.5,31.4 407.9,31.1" fill="none" stroke="#F07A28" stroke-width="2.3" stroke-linejoin="round" stroke-linecap="round" />
<path d="M291.2,130.0 C291.6,127.0 292.4,117.3 293.3,112.0 C294.2,106.7 295.1,102.5 296.3,98.0 C297.5,93.5 299.2,89.0 300.3,85.0 C301.4,81.0 302.1,77.4 303.0,74.0 C303.9,70.6 303.7,67.2 305.5,64.4 C307.3,61.6 310.9,59.3 313.9,57.2 C316.9,55.1 319.8,53.1 323.4,51.8 C327.0,50.5 330.9,50.0 335.3,49.6 C339.7,49.2 338.4,49.5 350.0,49.4 C361.6,49.3 390.4,49.3 405.0,49.2 C419.6,49.1 432.4,48.9 437.9,48.8" fill="none" stroke="#A8A8A8" stroke-width="2.1" stroke-linejoin="round" stroke-linecap="round" />
<path d="M290.5,134.0 C290.7,132.0 291.1,126.0 291.5,122.0 C291.9,118.0 292.4,113.7 293.0,110.0 C293.6,106.3 294.2,103.3 295.0,100.0 C295.8,96.7 296.6,93.0 297.5,90.0 C298.4,87.0 299.2,85.6 300.1,82.3 C301.0,79.0 301.8,73.7 303.1,70.3 C304.4,66.9 306.1,64.4 307.9,62.0 C309.7,59.6 311.7,57.9 313.9,56.0 C316.1,54.1 318.3,51.9 321.0,50.6 C323.7,49.3 327.2,49.0 330.0,48.3 C332.8,47.6 335.2,46.8 337.9,46.2 C340.5,45.6 341.9,45.2 345.9,44.6 C349.9,44.0 356.5,43.0 361.8,42.3 C367.1,41.6 372.4,40.9 377.7,40.3 C383.0,39.7 388.2,39.3 393.6,38.8 C399.0,38.3 403.9,38.0 410.0,37.5 C416.1,37.0 422.2,36.7 430.0,36.0 C437.8,35.3 452.1,33.8 456.5,33.4" fill="none" stroke="#1E8CDC" stroke-width="2.3" stroke-linejoin="round" stroke-linecap="round" />
<line x1="339.20" y1="32.20" x2="348.70" y2="38.20" stroke="#F07A28" stroke-width="0.7" />
<line x1="430.50" y1="36.20" x2="441.00" y2="41.60" stroke="#1E8CDC" stroke-width="0.8" />
<line x1="408.50" y1="49.30" x2="420.00" y2="67.10" stroke="#666" stroke-width="0.7" />
<text x="302.20" y="28.20" font-family="Liberation Serif" font-size="6.6" text-anchor="start" font-weight="bold" fill="#F07A28" stroke="#F07A28" stroke-width="0.2" textLength="52" lengthAdjust="spacingAndGlyphs" >BS2C5C - analytical</text>
<text x="442.70" y="44.20" font-family="Liberation Serif" font-size="6.6" text-anchor="start" font-weight="bold" fill="#1E8CDC" stroke="#1E8CDC" stroke-width="0.2" textLength="52" lengthAdjust="spacingAndGlyphs" >BS2C3C - analytical</text>
<text x="420.70" y="76.40" font-family="Liberation Serif" font-size="6.6" text-anchor="start" font-weight="bold" fill="#777" stroke="#777" stroke-width="0.2" textLength="52.5" lengthAdjust="spacingAndGlyphs" >BS2C1C - analytical</text>
<text x="369.50" y="19.40" font-family="Liberation Serif" font-size="9.6" text-anchor="start" font-weight="normal" fill="#222" stroke="#222" stroke-width="0.2" textLength="34" lengthAdjust="spacingAndGlyphs" >BS2C5C</text>
<text x="424.00" y="33.60" font-family="Liberation Serif" font-size="9.6" text-anchor="start" font-weight="normal" fill="#222" stroke="#222" stroke-width="0.2" textLength="33" lengthAdjust="spacingAndGlyphs" >BS2C3C</text>
<text x="433.00" y="67.40" font-family="Liberation Serif" font-size="9.6" text-anchor="start" font-weight="normal" fill="#222" stroke="#222" stroke-width="0.2" textLength="33.5" lengthAdjust="spacingAndGlyphs" >BS2C1C</text>
<text x="410.40" y="92.90" font-family="Liberation Serif" font-size="9.6" text-anchor="start" font-weight="normal" fill="#222" stroke="#222" stroke-width="0.2" textLength="22.6" lengthAdjust="spacingAndGlyphs" >BS2C</text>
<line x1="28.50" y1="282.40" x2="225.00" y2="282.40" stroke="#c8c8c8" stroke-width="0.8" stroke-dasharray="3,2.5"/>
<line x1="28.50" y1="252.20" x2="225.00" y2="252.20" stroke="#c8c8c8" stroke-width="0.8" stroke-dasharray="3,2.5"/>
<line x1="28.50" y1="222.00" x2="225.00" y2="222.00" stroke="#c8c8c8" stroke-width="0.8" stroke-dasharray="3,2.5"/>
<line x1="56.60" y1="191.70" x2="56.60" y2="312.60" stroke="#c8c8c8" stroke-width="0.8" stroke-dasharray="3,2.5"/>
<line x1="84.50" y1="191.70" x2="84.50" y2="312.60" stroke="#c8c8c8" stroke-width="0.8" stroke-dasharray="3,2.5"/>
<line x1="112.40" y1="191.70" x2="112.40" y2="312.60" stroke="#c8c8c8" stroke-width="0.8" stroke-dasharray="3,2.5"/>
<line x1="140.30" y1="191.70" x2="140.30" y2="312.60" stroke="#c8c8c8" stroke-width="0.8" stroke-dasharray="3,2.5"/>
<line x1="168.20" y1="191.70" x2="168.20" y2="312.60" stroke="#c8c8c8" stroke-width="0.8" stroke-dasharray="3,2.5"/>
<line x1="196.10" y1="191.70" x2="196.10" y2="312.60" stroke="#c8c8c8" stroke-width="0.8" stroke-dasharray="3,2.5"/>
<path d="M57.6,312.6 L59.6,291.0 C60.7,282.8 66.6,282.8 67.0,288.0 L63.6,312.6" fill="none" stroke="#000" stroke-width="1.0" stroke-linejoin="round" stroke-linecap="round" />
<path d="M62.9,312.6 L65.6,288.8 C66.7,280.6 76.4,280.6 76.8,285.8 L73.1,312.6" fill="none" stroke="#000" stroke-width="1.0" stroke-linejoin="round" stroke-linecap="round" />
<path d="M72.4,312.6 L75.4,287.6 C76.5,279.4 86.2,279.4 86.6,284.6 L82.8,312.6" fill="none" stroke="#000" stroke-width="1.0" stroke-linejoin="round" stroke-linecap="round" />
<path d="M82.1,312.6 L85.2,284.7 C86.3,276.5 96.0,276.5 96.4,281.7 L92.2,312.6" fill="none" stroke="#000" stroke-width="1.0" stroke-linejoin="round" stroke-linecap="round" />
<path d="M91.5,312.6 L95.0,283.5 C96.1,275.3 105.8,275.3 106.2,280.5 L101.9,312.6" fill="none" stroke="#000" stroke-width="1.0" stroke-linejoin="round" stroke-linecap="round" />
<path d="M101.2,312.6 L104.8,281.3 C105.9,273.1 115.6,273.1 116.0,278.3 L111.4,312.6" fill="none" stroke="#000" stroke-width="1.0" stroke-linejoin="round" stroke-linecap="round" />
<path d="M110.7,312.6 L114.6,278.8 C115.7,270.6 125.4,270.6 125.8,275.8 L120.9,312.6" fill="none" stroke="#000" stroke-width="1.0" stroke-linejoin="round" stroke-linecap="round" />
<path d="M120.2,312.6 L124.4,277.6 C125.5,269.4 135.2,269.4 135.6,274.6 L130.6,312.6" fill="none" stroke="#000" stroke-width="1.0" stroke-linejoin="round" stroke-linecap="round" />
<path d="M129.9,312.6 L134.2,274.9 C135.3,266.7 145.0,266.7 145.4,271.9 L140.0,312.6" fill="none" stroke="#000" stroke-width="1.0" stroke-linejoin="round" stroke-linecap="round" />
<path d="M53.5,312.6 L56.1,285.9 C57.2,277.7 63.1,277.7 63.5,282.9 L59.5,312.6" fill="none" stroke="#000" stroke-width="1.2" stroke-linejoin="round" stroke-linecap="round" />
<path d="M58.8,312.6 L62.1,282.3 C63.2,274.1 71.2,274.1 71.6,279.3 L67.1,312.6" fill="none" stroke="#000" stroke-width="1.2" stroke-linejoin="round" stroke-linecap="round" />
<path d="M66.4,312.6 L70.2,279.4 C71.3,271.2 79.3,271.2 79.7,276.4 L74.9,312.6" fill="none" stroke="#000" stroke-width="1.2" stroke-linejoin="round" stroke-linecap="round" />
<path d="M74.2,312.6 L78.3,276.9 C79.4,268.7 87.4,268.7 87.8,273.9 L82.7,312.6" fill="none" stroke="#000" stroke-width="1.2" stroke-linejoin="round" stroke-linecap="round" />
<path d="M82.0,312.6 L86.4,274.5 C87.5,266.3 95.5,266.3 95.9,271.5 L90.5,312.6" fill="none" stroke="#000" stroke-width="1.2" stroke-linejoin="round" stroke-linecap="round" />
<path d="M89.8,312.6 L94.5,270.4 C95.6,262.2 103.6,262.2 104.0,267.4 L98.1,312.6" fill="none" stroke="#000" stroke-width="1.2" stroke-linejoin="round" stroke-linecap="round" />
<path d="M97.4,312.6 L102.6,267.6 C103.7,259.4 111.7,259.4 112.1,264.6 L105.9,312.6" fill="none" stroke="#000" stroke-width="1.2" stroke-linejoin="round" stroke-linecap="round" />
<path d="M105.2,312.6 L110.7,265.2 C111.8,257.0 119.8,257.0 120.2,262.2 L113.7,312.6" fill="none" stroke="#000" stroke-width="1.2" stroke-linejoin="round" stroke-linecap="round" />
<path d="M113.0,312.6 L118.8,262.7 C119.9,254.5 127.9,254.5 128.3,259.7 L121.5,312.6" fill="none" stroke="#000" stroke-width="1.2" stroke-linejoin="round" stroke-linecap="round" />
<path d="M120.8,312.6 L126.9,259.2 C128.0,251.0 136.0,251.0 136.4,256.2 L129.1,312.6" fill="none" stroke="#000" stroke-width="1.2" stroke-linejoin="round" stroke-linecap="round" />
<path d="M128.4,312.6 L135.0,255.9 C136.1,247.7 144.1,247.7 144.5,252.9 L136.9,312.6" fill="none" stroke="#000" stroke-width="1.2" stroke-linejoin="round" stroke-linecap="round" />
<path d="M51.2,312.6 L54.1,289.0 C56.2,278.5 59.2,273.6 62.0,273.0 L56.9,312.6" fill="none" stroke="#000" stroke-width="1.25" stroke-linejoin="round" stroke-linecap="round" />
<path d="M56.4,312.6 L60.1,283.0 C62.2,272.5 63.2,270.6 66.0,270.0 L60.6,312.6" fill="none" stroke="#000" stroke-width="1.25" stroke-linejoin="round" stroke-linecap="round" />
<path d="M60.1,312.6 L64.1,280.0 C66.2,269.5 67.2,267.1 70.0,266.5 L64.2,312.6" fill="none" stroke="#000" stroke-width="1.25" stroke-linejoin="round" stroke-linecap="round" />
<path d="M63.7,312.6 L68.1,276.5 C70.2,266.0 72.1,264.0 74.9,263.4 L68.7,312.6" fill="none" stroke="#000" stroke-width="1.25" stroke-linejoin="round" stroke-linecap="round" />
<path d="M68.2,312.6 L73.0,273.4 C75.1,262.9 75.6,262.0 78.4,261.4 L72.0,312.6" fill="none" stroke="#000" stroke-width="1.25" stroke-linejoin="round" stroke-linecap="round" />
<path d="M71.5,312.6 L76.5,271.4 C78.6,260.9 80.1,258.5 82.9,257.9 L76.0,312.6" fill="none" stroke="#000" stroke-width="1.25" stroke-linejoin="round" stroke-linecap="round" />
<path d="M75.5,312.6 L81.0,267.9 C83.1,257.4 84.0,256.5 86.8,255.9 L79.7,312.6" fill="none" stroke="#000" stroke-width="1.25" stroke-linejoin="round" stroke-linecap="round" />
<path d="M79.2,312.6 L84.9,265.9 C87.0,255.4 88.0,254.5 90.8,253.9 L83.5,312.6" fill="none" stroke="#000" stroke-width="1.25" stroke-linejoin="round" stroke-linecap="round" />
<path d="M83.0,312.6 L88.9,263.9 C91.0,253.4 92.0,252.0 94.8,251.4 L87.2,312.6" fill="none" stroke="#000" stroke-width="1.25" stroke-linejoin="round" stroke-linecap="round" />
<path d="M86.7,312.6 L92.9,261.4 C95.0,250.9 96.0,250.0 98.8,249.4 L90.9,312.6" fill="none" stroke="#000" stroke-width="1.25" stroke-linejoin="round" stroke-linecap="round" />
<path d="M90.4,312.6 L96.9,259.4 C99.0,248.9 99.9,247.6 102.7,247.0 L94.5,312.6" fill="none" stroke="#000" stroke-width="1.25" stroke-linejoin="round" stroke-linecap="round" />
<path d="M94.0,312.6 L100.8,257.0 C102.9,246.5 103.9,245.1 106.7,244.5 L98.2,312.6" fill="none" stroke="#000" stroke-width="1.25" stroke-linejoin="round" stroke-linecap="round" />
<path d="M97.7,312.6 L104.8,254.5 C106.9,244.0 108.6,241.0 111.4,240.4 L102.4,312.6" fill="none" stroke="#000" stroke-width="1.25" stroke-linejoin="round" stroke-linecap="round" />
<path d="M101.9,312.6 L109.5,250.4 C111.6,239.9 119.0,233.6 121.8,233.0 L111.9,312.6" fill="none" stroke="#000" stroke-width="1.25" stroke-linejoin="round" stroke-linecap="round" />
<path d="M111.4,312.6 L119.9,243.0 C122.0,232.5 128.3,226.6 131.1,226.0 L120.4,312.6" fill="none" stroke="#000" stroke-width="1.25" stroke-linejoin="round" stroke-linecap="round" />
<path d="M119.9,312.6 L129.2,236.0 C131.3,225.5 139.4,221.8 142.2,221.2 L130.9,312.6" fill="none" stroke="#000" stroke-width="1.25" stroke-linejoin="round" stroke-linecap="round" />
<path d="M143.6,232.0 C143.9,231.3 144.7,229.2 145.3,228.0 C145.9,226.8 146.9,225.5 147.2,225.0" fill="none" stroke="#000" stroke-width="1.0" stroke-linejoin="round" stroke-linecap="round" />
<circle cx="148.9" cy="223.2" r="2.3" fill="#fff" stroke="#000" stroke-width="0.9"/>
<path d="M144.5,312.6 C144.8,304.2 145.9,272.1 146.5,262.0 C147.1,251.9 147.2,254.5 148.0,252.0 C148.8,249.5 149.8,248.2 151.0,247.0 C152.2,245.8 154.1,244.9 155.3,244.8 C156.5,244.7 157.3,245.3 158.0,246.2 C158.7,247.1 159.3,248.0 159.6,250.0 C159.9,252.0 160.0,255.0 160.0,258.0 C160.0,261.0 159.8,266.3 159.8,268.0" fill="none" stroke="#000" stroke-width="1.15" stroke-linejoin="round" stroke-linecap="round" />
<path d="M157.5,262.0 C158.0,261.3 159.5,259.0 160.5,258.0 C161.5,257.0 162.8,256.3 163.3,256.0" fill="none" stroke="#000" stroke-width="1.0" stroke-linejoin="round" stroke-linecap="round" />
<circle cx="165.4" cy="255.3" r="2.4" fill="#fff" stroke="#000" stroke-width="0.9"/>
<path d="M150.0,312.6 C150.2,306.3 150.9,282.4 151.5,275.0 C152.1,267.6 152.6,269.6 153.5,268.0 C154.4,266.4 155.7,266.1 157.0,265.5 C158.3,264.9 160.7,264.8 161.4,264.6" fill="none" stroke="#000" stroke-width="1.0" stroke-linejoin="round" stroke-linecap="round" />
<rect x="161.4" y="262.4" width="3.8" height="4.4" fill="#fff" stroke="#000" stroke-width="0.9"/>
<path d="M36.3,220.8 C36.8,222.2 38.1,225.8 39.0,229.0 C39.9,232.2 40.9,236.4 41.8,239.9 C42.7,243.4 43.5,246.4 44.5,250.0 C45.5,253.6 46.8,258.2 47.7,261.4 C48.6,264.6 49.2,266.6 50.0,269.0 C50.8,271.4 51.7,273.0 52.5,275.7 C53.3,278.4 54.3,281.6 54.9,285.2 C55.5,288.8 56.0,292.6 56.3,297.2 C56.6,301.8 56.7,310.0 56.8,312.6" fill="none" stroke="#000" stroke-width="1.1" stroke-linejoin="round" stroke-linecap="round" />
<path d="M36.3,218.3 L38.6,220.8 L36.3,223.3 L34,220.8 Z" fill="#fff" stroke="#000" stroke-width="0.9"/>
<path d="M42.5,253.0 C43.0,253.6 44.4,255.3 45.3,256.6 C46.2,257.9 47.2,259.4 48.0,261.0 C48.8,262.6 49.1,263.7 50.1,266.1 C51.1,268.6 52.8,272.5 53.7,275.7 C54.6,278.9 55.0,281.1 55.4,285.2 C55.8,289.2 56.2,295.4 56.4,300.0 C56.6,304.6 56.7,310.5 56.7,312.6" fill="none" stroke="#000" stroke-width="1.1" stroke-linejoin="round" stroke-linecap="round" />
<circle cx="42.3" cy="252.6" r="2.2" fill="#fff" stroke="#000" stroke-width="0.9"/>
<path d="M39.4,256.0 C39.8,256.3 41.1,257.2 42.0,258.0 C42.9,258.8 44.0,259.9 45.0,261.0 C46.0,262.1 46.7,263.0 47.7,264.5 C48.7,266.0 50.0,267.6 51.0,270.0 C52.0,272.4 53.2,275.3 54.0,279.0 C54.8,282.7 55.6,286.4 56.0,292.0 C56.4,297.6 56.5,309.2 56.6,312.6" fill="none" stroke="#000" stroke-width="1.1" stroke-linejoin="round" stroke-linecap="round" />
<rect x="36.4" y="254.4" width="3.8" height="4.4" fill="#fff" stroke="#000" stroke-width="0.9"/>
<path d="M57.0,312.6 C57.1,310.5 57.3,303.8 57.5,300.0 C57.7,296.2 57.6,293.0 58.0,290.0 C58.4,287.0 58.8,284.0 60.0,282.0 C61.2,280.0 62.5,279.5 65.0,277.8 C67.5,276.1 69.9,274.6 74.9,272.0 C79.9,269.4 88.2,265.4 94.8,262.0 C101.4,258.6 108.1,254.9 114.6,251.5 C121.1,248.1 127.7,244.7 134.0,241.5 C140.3,238.3 149.5,234.0 152.6,232.5" fill="none" stroke="#F07A28" stroke-width="1.9" stroke-linejoin="round" stroke-linecap="round" />
<path d="M59.5,286.0 C59.8,285.6 57.6,285.1 61.0,283.8 C64.4,282.6 73.5,280.3 80.0,278.5 C86.5,276.7 93.3,274.8 100.0,273.0 C106.7,271.2 113.3,269.3 120.0,267.5 C126.7,265.7 135.0,263.5 140.0,262.0 C145.0,260.5 148.5,259.1 150.2,258.5" fill="none" stroke="#1E8CDC" stroke-width="1.9" stroke-linejoin="round" stroke-linecap="round" />
<path d="M59.5,287.0 C59.8,286.5 60.1,284.4 61.0,284.2 C61.9,283.9 63.4,285.2 65.0,285.5 C66.7,285.8 67.6,286.1 70.9,286.0 C74.2,285.9 79.2,285.7 84.8,285.0 C90.4,284.3 98.1,283.0 104.7,282.0 C111.3,281.0 118.0,280.2 124.6,279.0 C131.2,277.8 139.4,276.1 144.5,275.0 C149.6,273.9 152.1,273.2 155.0,272.5 C157.9,271.8 160.8,271.2 162.0,271.0" fill="none" stroke="#5A5A5A" stroke-width="1.4" stroke-linejoin="round" stroke-linecap="round" />
<line x1="95.80" y1="237.90" x2="86.30" y2="265.30" stroke="#F07A28" stroke-width="0.7" />
<line x1="137.20" y1="259.60" x2="155.70" y2="237.90" stroke="#1E8CDC" stroke-width="0.7" />
<line x1="145.00" y1="271.00" x2="162.00" y2="262.50" stroke="#777" stroke-width="0.7" />
<text x="81.00" y="229.80" font-family="Liberation Serif" font-size="7.4" text-anchor="start" font-weight="bold" fill="#F07A28" stroke="#F07A28" stroke-width="0.2" textLength="47" lengthAdjust="spacingAndGlyphs" >LSR-R-1-3-40b -</text>
<text x="81.00" y="237.40" font-family="Liberation Serif" font-size="7.4" text-anchor="start" font-weight="bold" fill="#F07A28" stroke="#F07A28" stroke-width="0.2" textLength="26.7" lengthAdjust="spacingAndGlyphs" >analytical</text>
<text x="157.40" y="240.50" font-family="Liberation Serif" font-size="7.4" text-anchor="start" font-weight="bold" fill="#1E8CDC" stroke="#1E8CDC" stroke-width="0.2" textLength="47" lengthAdjust="spacingAndGlyphs" >LSR-R-1-3-20b -</text>
<text x="157.40" y="247.60" font-family="Liberation Serif" font-size="7.4" text-anchor="start" font-weight="bold" fill="#1E8CDC" stroke="#1E8CDC" stroke-width="0.2" textLength="26.7" lengthAdjust="spacingAndGlyphs" >analytical</text>
<text x="169.80" y="259.60" font-family="Liberation Serif" font-size="7.4" text-anchor="start" font-weight="bold" fill="#888" stroke="#888" stroke-width="0.2" textLength="47" lengthAdjust="spacingAndGlyphs" >LSR-R-1-3-10b -</text>
<text x="169.80" y="266.80" font-family="Liberation Serif" font-size="7.4" text-anchor="start" font-weight="bold" fill="#888" stroke="#888" stroke-width="0.2" textLength="26.7" lengthAdjust="spacingAndGlyphs" >analytical</text>
<rect x="28.5" y="191.7" width="196.5" height="120.9" fill="none" stroke="#222" stroke-width="1.3"/>
<line x1="55.10" y1="312.60" x2="58.10" y2="312.60" stroke="#222" stroke-width="0.8" />
<text x="49.20" y="315.70" font-family="Liberation Serif" font-size="9" text-anchor="middle" font-weight="normal" fill="#222" stroke="#222" stroke-width="0.2" >0</text>
<line x1="55.10" y1="282.40" x2="58.10" y2="282.40" stroke="#222" stroke-width="0.8" />
<text x="49.20" y="285.50" font-family="Liberation Serif" font-size="9" text-anchor="middle" font-weight="normal" fill="#222" stroke="#222" stroke-width="0.2" >1</text>
<line x1="55.10" y1="252.20" x2="58.10" y2="252.20" stroke="#222" stroke-width="0.8" />
<text x="49.20" y="255.30" font-family="Liberation Serif" font-size="9" text-anchor="middle" font-weight="normal" fill="#222" stroke="#222" stroke-width="0.2" >2</text>
<line x1="55.10" y1="222.00" x2="58.10" y2="222.00" stroke="#222" stroke-width="0.8" />
<text x="49.20" y="225.10" font-family="Liberation Serif" font-size="9" text-anchor="middle" font-weight="normal" fill="#222" stroke="#222" stroke-width="0.2" >3</text>
<line x1="55.10" y1="191.80" x2="58.10" y2="191.80" stroke="#222" stroke-width="0.8" />
<text x="49.20" y="194.90" font-family="Liberation Serif" font-size="9" text-anchor="middle" font-weight="normal" fill="#222" stroke="#222" stroke-width="0.2" >4</text>
<rect x="61.5" y="199.1" width="11.9" height="7.6" rx="1.8" fill="#fff" stroke="#222" stroke-width="0.9"/>
<rect x="75.4" y="198.4" width="7.9" height="8" rx="1.8" fill="#aaa" stroke="#222" stroke-width="0.9"/>
<circle cx="89.5" cy="202.5" r="4.0" fill="#fff" stroke="#222" stroke-width="0.9"/>
<line x1="151.00" y1="201.90" x2="169.80" y2="201.90" stroke="#000" stroke-width="1.1" />
<rect x="157" y="199.70000000000002" width="3.8" height="4.2" fill="#fff" stroke="#000" stroke-width="0.8"/>
<line x1="151.00" y1="209.20" x2="169.80" y2="209.20" stroke="#000" stroke-width="1.1" />
<circle cx="158.9" cy="210.39999999999998" r="2" fill="#fff" stroke="#000" stroke-width="0.8"/>
<line x1="151.00" y1="216.90" x2="169.80" y2="216.90" stroke="#000" stroke-width="1.1" />
<path d="M158.9,216.70000000000002 L161,218.9 L158.9,221.1 L156.8,218.9 Z" fill="#fff" stroke="#000" stroke-width="0.8"/>
<text x="171.80" y="204.60" font-family="Liberation Serif" font-size="7.6" text-anchor="start" font-weight="normal" fill="#222" stroke="#222" stroke-width="0.2" textLength="47.3" lengthAdjust="spacingAndGlyphs" >LSR-R-1-3-10b</text>
<text x="171.80" y="211.90" font-family="Liberation Serif" font-size="7.6" text-anchor="start" font-weight="normal" fill="#222" stroke="#222" stroke-width="0.2" textLength="47.3" lengthAdjust="spacingAndGlyphs" >LSR-R-1-3-20b</text>
<text x="171.80" y="219.60" font-family="Liberation Serif" font-size="7.6" text-anchor="start" font-weight="normal" fill="#222" stroke="#222" stroke-width="0.2" textLength="47.3" lengthAdjust="spacingAndGlyphs" >LSR-R-1-3-40b</text>
<text x="31.00" y="310.60" font-family="Liberation Serif" font-size="8.3" text-anchor="start" font-weight="normal" fill="#222" stroke="#222" stroke-width="0.2" textLength="20" lengthAdjust="spacingAndGlyphs" >Lateral</text>
<text x="200.50" y="310.60" font-family="Liberation Serif" font-size="8.3" text-anchor="start" font-weight="normal" fill="#222" stroke="#222" stroke-width="0.2" textLength="16.7" lengthAdjust="spacingAndGlyphs" >Axial</text>
<text x="28.70" y="328.80" font-family="Liberation Serif" font-size="8" text-anchor="middle" font-weight="normal" fill="#222" stroke="#222" stroke-width="0.2" >-20000</text>
<text x="56.60" y="328.80" font-family="Liberation Serif" font-size="8" text-anchor="middle" font-weight="normal" fill="#222" stroke="#222" stroke-width="0.2" >0</text>
<text x="84.50" y="328.80" font-family="Liberation Serif" font-size="8" text-anchor="middle" font-weight="normal" fill="#222" stroke="#222" stroke-width="0.2" >20000</text>
<text x="112.40" y="328.80" font-family="Liberation Serif" font-size="8" text-anchor="middle" font-weight="normal" fill="#222" stroke="#222" stroke-width="0.2" >40000</text>
<text x="140.30" y="328.80" font-family="Liberation Serif" font-size="8" text-anchor="middle" font-weight="normal" fill="#222" stroke="#222" stroke-width="0.2" >60000</text>
<text x="168.20" y="328.80" font-family="Liberation Serif" font-size="8" text-anchor="middle" font-weight="normal" fill="#222" stroke="#222" stroke-width="0.2" >80000</text>
<text x="196.10" y="328.80" font-family="Liberation Serif" font-size="8" text-anchor="middle" font-weight="normal" fill="#222" stroke="#222" stroke-width="0.2" >100000</text>
<text x="224.00" y="328.80" font-family="Liberation Serif" font-size="8" text-anchor="middle" font-weight="normal" fill="#222" stroke="#222" stroke-width="0.2" >120000</text>
<text x="127.00" y="344.20" font-family="Liberation Serif" font-size="7.6" text-anchor="middle" font-weight="normal" fill="#222" stroke="#222" stroke-width="0.2" textLength="77" lengthAdjust="spacingAndGlyphs" >Deformation (microstrain)</text>
<text x="120.00" y="364.50" font-family="Liberation Serif" font-size="12" text-anchor="middle" font-weight="bold" fill="#222" stroke="#222" stroke-width="0.2" >(c)</text>
<text transform="translate(12.2,251.5) rotate(-90)" font-family="Liberation Serif" font-size="8.5" text-anchor="middle" fill="#222" stroke="#222" stroke-width="0.2" textLength="71" lengthAdjust="spacingAndGlyphs">Axial Stress (σ<tspan font-size="6" dy="1.5">c</tspan><tspan dy="-1.5">/f'</tspan><tspan font-size="6" dy="1.5">co</tspan><tspan dy="-1.5">)</tspan></text>
<rect x="293.4" y="196.1" width="192.2" height="131.4" fill="none" stroke="#222" stroke-width="1.0"/>
<line x1="293.40" y1="327.50" x2="296.60" y2="327.50" stroke="#222" stroke-width="0.8" />
<line x1="293.40" y1="316.55" x2="295.20" y2="316.55" stroke="#222" stroke-width="0.8" />
<line x1="293.40" y1="305.60" x2="296.60" y2="305.60" stroke="#222" stroke-width="0.8" />
<line x1="293.40" y1="294.65" x2="295.20" y2="294.65" stroke="#222" stroke-width="0.8" />
<line x1="293.40" y1="283.70" x2="296.60" y2="283.70" stroke="#222" stroke-width="0.8" />
<line x1="293.40" y1="272.75" x2="295.20" y2="272.75" stroke="#222" stroke-width="0.8" />
<line x1="293.40" y1="261.80" x2="296.60" y2="261.80" stroke="#222" stroke-width="0.8" />
<line x1="293.40" y1="250.85" x2="295.20" y2="250.85" stroke="#222" stroke-width="0.8" />
<line x1="293.40" y1="239.90" x2="296.60" y2="239.90" stroke="#222" stroke-width="0.8" />
<line x1="293.40" y1="228.95" x2="295.20" y2="228.95" stroke="#222" stroke-width="0.8" />
<line x1="293.40" y1="218.00" x2="296.60" y2="218.00" stroke="#222" stroke-width="0.8" />
<line x1="293.40" y1="207.05" x2="295.20" y2="207.05" stroke="#222" stroke-width="0.8" />
<line x1="293.40" y1="196.10" x2="296.60" y2="196.10" stroke="#222" stroke-width="0.8" />
<line x1="293.40" y1="327.50" x2="293.40" y2="324.30" stroke="#222" stroke-width="0.8" />
<line x1="312.63" y1="327.50" x2="312.63" y2="325.70" stroke="#222" stroke-width="0.8" />
<line x1="331.86" y1="327.50" x2="331.86" y2="324.30" stroke="#222" stroke-width="0.8" />
<line x1="351.09" y1="327.50" x2="351.09" y2="325.70" stroke="#222" stroke-width="0.8" />
<line x1="370.32" y1="327.50" x2="370.32" y2="324.30" stroke="#222" stroke-width="0.8" />
<line x1="389.55" y1="327.50" x2="389.55" y2="325.70" stroke="#222" stroke-width="0.8" />
<line x1="408.78" y1="327.50" x2="408.78" y2="324.30" stroke="#222" stroke-width="0.8" />
<line x1="428.01" y1="327.50" x2="428.01" y2="325.70" stroke="#222" stroke-width="0.8" />
<line x1="447.24" y1="327.50" x2="447.24" y2="324.30" stroke="#222" stroke-width="0.8" />
<line x1="466.47" y1="327.50" x2="466.47" y2="325.70" stroke="#222" stroke-width="0.8" />
<line x1="485.70" y1="327.50" x2="485.70" y2="324.30" stroke="#222" stroke-width="0.8" />
<text x="289.60" y="331.20" font-family="Liberation Serif" font-size="11" text-anchor="end" font-weight="normal" fill="#222" stroke="#222" stroke-width="0.2" textLength="5.5" lengthAdjust="spacingAndGlyphs" >0</text>
<text x="289.60" y="309.30" font-family="Liberation Serif" font-size="11" text-anchor="end" font-weight="normal" fill="#222" stroke="#222" stroke-width="0.2" textLength="11" lengthAdjust="spacingAndGlyphs" >10</text>
<text x="289.60" y="287.40" font-family="Liberation Serif" font-size="11" text-anchor="end" font-weight="normal" fill="#222" stroke="#222" stroke-width="0.2" textLength="11" lengthAdjust="spacingAndGlyphs" >20</text>
<text x="289.60" y="265.50" font-family="Liberation Serif" font-size="11" text-anchor="end" font-weight="normal" fill="#222" stroke="#222" stroke-width="0.2" textLength="11" lengthAdjust="spacingAndGlyphs" >30</text>
<text x="289.60" y="243.60" font-family="Liberation Serif" font-size="11" text-anchor="end" font-weight="normal" fill="#222" stroke="#222" stroke-width="0.2" textLength="11" lengthAdjust="spacingAndGlyphs" >40</text>
<text x="289.60" y="221.70" font-family="Liberation Serif" font-size="11" text-anchor="end" font-weight="normal" fill="#222" stroke="#222" stroke-width="0.2" textLength="11" lengthAdjust="spacingAndGlyphs" >50</text>
<text x="289.60" y="199.80" font-family="Liberation Serif" font-size="11" text-anchor="end" font-weight="normal" fill="#222" stroke="#222" stroke-width="0.2" textLength="11" lengthAdjust="spacingAndGlyphs" >60</text>
<text x="293.40" y="339.80" font-family="Liberation Serif" font-size="10.5" text-anchor="middle" font-weight="normal" fill="#222" stroke="#222" stroke-width="0.2" textLength="25" lengthAdjust="spacingAndGlyphs" >0.000</text>
<text x="331.86" y="339.80" font-family="Liberation Serif" font-size="10.5" text-anchor="middle" font-weight="normal" fill="#222" stroke="#222" stroke-width="0.2" textLength="25" lengthAdjust="spacingAndGlyphs" >0.005</text>
<text x="370.32" y="339.80" font-family="Liberation Serif" font-size="10.5" text-anchor="middle" font-weight="normal" fill="#222" stroke="#222" stroke-width="0.2" textLength="25" lengthAdjust="spacingAndGlyphs" >0.010</text>
<text x="408.78" y="339.80" font-family="Liberation Serif" font-size="10.5" text-anchor="middle" font-weight="normal" fill="#222" stroke="#222" stroke-width="0.2" textLength="25" lengthAdjust="spacingAndGlyphs" >0.015</text>
<text x="447.24" y="339.80" font-family="Liberation Serif" font-size="10.5" text-anchor="middle" font-weight="normal" fill="#222" stroke="#222" stroke-width="0.2" textLength="25" lengthAdjust="spacingAndGlyphs" >0.020</text>
<text x="485.70" y="339.80" font-family="Liberation Serif" font-size="10.5" text-anchor="middle" font-weight="normal" fill="#222" stroke="#222" stroke-width="0.2" textLength="25" lengthAdjust="spacingAndGlyphs" >0.025</text>
<text x="339.00" y="351.20" font-family="Liberation Serif" font-size="11" text-anchor="start" font-weight="normal" fill="#222" stroke="#222" stroke-width="0.2" textLength="100.8" lengthAdjust="spacingAndGlyphs" >Axial strain (mm/mm)</text>
<text x="377.10" y="363.60" font-family="Liberation Serif" font-size="12.3" text-anchor="middle" font-weight="bold" fill="#222" stroke="#222" stroke-width="0.2" >(d)</text>
<text transform="translate(268.6,266.7) rotate(-90)" font-family="Liberation Serif" font-size="11" text-anchor="middle" fill="#222" stroke="#222" stroke-width="0.2" textLength="79.4" lengthAdjust="spacingAndGlyphs">Axial stress (MPa)</text>
<line x1="362.80" y1="205.00" x2="388.40" y2="205.00" stroke="#000" stroke-width="1.0" stroke-dasharray="5,2,1.2,2"/>
<line x1="362.80" y1="216.40" x2="388.40" y2="216.40" stroke="#000" stroke-width="1.8" />
<line x1="362.80" y1="227.80" x2="388.40" y2="227.80" stroke="#2e2e2e" stroke-width="0.9" />
<text x="391.80" y="208.80" font-family="Liberation Serif" font-size="11.3" text-anchor="start" font-weight="normal" fill="#222" stroke="#222" stroke-width="0.2" textLength="59.2" lengthAdjust="spacingAndGlyphs" >R2.0H2ML0</text>
<text x="391.80" y="220.20" font-family="Liberation Serif" font-size="11.3" text-anchor="start" font-weight="normal" fill="#222" stroke="#222" stroke-width="0.2" textLength="59.2" lengthAdjust="spacingAndGlyphs" >R2.0H2ML3</text>
<text x="391.80" y="231.60" font-family="Liberation Serif" font-size="11.3" text-anchor="start" font-weight="normal" fill="#222" stroke="#222" stroke-width="0.2" textLength="59.2" lengthAdjust="spacingAndGlyphs" >R2.0H2CL3</text>
<path d="M320.0,327.5 Q328.4,284.2 338.5,243.5 Q339.3,239.8 341.4,241.3 Q340.8,244.0 340.4,246.0 Q332.6,284.2 323.0,327.5" fill="none" stroke="#2e2e2e" stroke-width="0.85" stroke-linejoin="round" stroke-linecap="round" />
<path d="M326.0,327.5 Q335.1,284.8 346.0,244.5 Q346.8,240.8 348.9,242.3 Q348.3,245.0 347.9,247.0 Q340.3,284.8 331.0,327.5" fill="none" stroke="#2e2e2e" stroke-width="0.85" stroke-linejoin="round" stroke-linecap="round" />
<path d="M344.8,327.5 Q352.8,284.2 362.4,243.5 Q363.2,239.8 365.3,241.3 Q364.7,244.0 364.3,246.0 Q357.4,284.2 348.8,327.5" fill="none" stroke="#2e2e2e" stroke-width="0.85" stroke-linejoin="round" stroke-linecap="round" />
<path d="M354.8,327.5 Q363.7,284.8 374.3,244.5 Q375.1,240.8 377.2,242.3 Q376.6,245.0 376.2,247.0 Q368.3,284.8 358.7,327.5" fill="none" stroke="#2e2e2e" stroke-width="0.85" stroke-linejoin="round" stroke-linecap="round" />
<path d="M366.7,327.5 Q374.6,284.2 384.3,243.5 Q385.1,239.8 387.2,241.3 Q386.6,244.0 386.2,246.0 Q378.8,284.2 369.7,327.5" fill="none" stroke="#2e2e2e" stroke-width="0.85" stroke-linejoin="round" stroke-linecap="round" />
<path d="M376.6,327.5 Q385.6,285.2 396.2,245.5 Q397.0,241.8 399.1,243.3 Q398.5,246.0 398.1,248.0 Q390.2,285.2 380.6,327.5" fill="none" stroke="#2e2e2e" stroke-width="0.85" stroke-linejoin="round" stroke-linecap="round" />
<path d="M389.6,327.5 C390.2,322.9 391.8,308.8 393.0,300.0 C394.2,291.2 395.8,282.0 397.0,275.0 C398.2,268.0 399.2,262.8 400.0,258.0 C400.8,253.2 401.4,248.5 401.8,246.0 C402.2,243.5 402.1,243.2 402.5,243.0 C402.9,242.8 403.7,243.3 404.0,244.5 C404.3,245.7 404.4,247.1 404.2,250.0 C403.9,252.9 403.1,258.4 402.5,262.0 C401.9,265.6 401.3,267.6 400.5,271.8 C399.7,276.0 398.5,282.0 397.5,287.0 C396.5,292.0 395.4,296.9 394.5,301.6 C393.6,306.3 392.8,310.7 392.3,315.0 C391.8,319.3 391.6,325.4 391.5,327.5" fill="none" stroke="#2e2e2e" stroke-width="0.85" stroke-linejoin="round" stroke-linecap="round" />
<path d="M293.6,327.3 C294.2,324.8 295.8,318.2 297.0,312.0 C298.2,305.8 299.7,297.8 301.0,290.0 C302.3,282.2 303.7,272.5 305.0,265.0 C306.3,257.5 307.5,251.2 308.6,245.0 C309.7,238.8 310.7,233.2 311.5,228.0 C312.3,222.8 312.8,217.5 313.5,214.0 C314.2,210.5 315.1,208.0 315.8,206.8 C316.6,205.6 317.1,206.4 318.0,206.6 C318.9,206.8 320.0,208.0 321.0,208.1 C322.0,208.2 323.1,207.5 324.0,207.4 C324.9,207.3 325.4,207.1 326.2,207.6 C327.0,208.1 327.9,208.9 328.8,210.7 C329.7,212.5 330.7,216.2 331.3,218.4 C331.9,220.6 332.3,221.7 332.6,223.6 C332.9,225.5 332.9,229.3 333.2,230.0 C333.5,230.7 334.1,227.5 334.5,228.0 C334.9,228.5 335.2,231.6 335.5,233.0 C335.8,234.4 335.9,235.3 336.5,236.5 C337.1,237.7 338.2,239.7 339.1,240.4 C340.0,241.2 341.5,240.9 342.0,241.0" fill="none" stroke="#2e2e2e" stroke-width="0.9" stroke-linejoin="round" stroke-linecap="round" />
<path d="M296.0,327.5 C296.5,324.6 297.8,317.1 299.0,310.0 C300.2,302.9 301.7,293.3 303.0,285.0 C304.3,276.7 305.8,267.5 307.0,260.0 C308.2,252.5 309.2,245.8 310.0,240.0 C310.8,234.2 311.3,229.3 312.0,225.0 C312.7,220.7 313.4,216.7 314.0,214.0 C314.6,211.3 315.2,209.8 315.5,209.0" fill="none" stroke="#2e2e2e" stroke-width="0.85" stroke-linejoin="round" stroke-linecap="round" />
<path d="M293.6,327.3 C294.2,324.4 295.8,317.1 297.0,310.0 C298.2,302.9 299.7,293.7 301.0,285.0 C302.3,276.3 303.8,266.0 305.0,258.0 C306.2,250.0 307.5,242.7 308.5,237.0 C309.5,231.3 310.3,227.5 311.0,224.0 C311.7,220.5 312.2,217.3 312.5,216.0" fill="none" stroke="#000" stroke-width="1.0" stroke-linejoin="round" stroke-linecap="round" />
<line x1="312.50" y1="218.00" x2="348.20" y2="294.50" stroke="#000" stroke-width="0.9" stroke-dasharray="5,2,1.2,2"/>
<path d="M293.6,327.3 C294.3,321.8 296.6,302.2 297.7,294.0 C298.8,285.8 299.6,283.4 300.5,278.0 C301.4,272.6 302.3,266.7 303.2,261.4 C304.1,256.1 305.1,250.6 306.0,246.0 C306.9,241.4 307.9,237.6 308.6,234.1 C309.4,230.6 309.8,227.7 310.5,225.0 C311.2,222.3 312.0,219.9 312.7,217.7 C313.4,215.5 313.8,213.6 314.5,212.0 C315.2,210.4 316.1,209.1 316.8,208.2 C317.5,207.3 318.1,206.9 318.8,206.6 C319.5,206.3 320.2,206.2 320.9,206.3 C321.6,206.4 322.3,206.7 323.0,207.0 C323.7,207.3 324.3,207.7 325.0,208.2 C325.7,208.7 326.3,209.3 327.0,210.0 C327.7,210.7 328.1,210.8 329.1,212.3 C330.1,213.8 331.8,217.3 333.2,219.1 C334.6,220.9 335.7,221.6 337.3,223.2 C338.9,224.8 340.9,226.3 342.7,228.6 C344.5,230.9 346.4,234.8 348.2,236.8 C350.0,238.8 351.6,239.8 353.6,240.6 C355.6,241.4 354.2,241.5 360.0,241.5 C365.8,241.5 381.7,241.0 388.4,240.8 C395.1,240.6 396.9,240.4 400.0,240.2 C403.1,240.0 405.8,239.8 407.0,239.7" fill="none" stroke="#000" stroke-width="2.0" stroke-linejoin="round" stroke-linecap="round" />
<path d="M409.5,240 L409.8,249 L410.8,249 L411,240" fill="none" stroke="#000" stroke-width="1.6" stroke-linejoin="round" stroke-linecap="round" />
<path d="M407.0,239.7 C408.2,239.6 411.7,239.5 414.0,239.4 C416.3,239.3 418.9,239.2 420.6,239.3 C422.3,239.4 422.8,239.8 424.0,240.2 C425.2,240.6 426.5,241.3 427.7,241.9 C428.9,242.5 429.8,243.2 431.0,244.0 C432.2,244.8 433.7,245.9 434.9,246.7 C436.1,247.5 436.8,248.2 438.0,249.0 C439.2,249.8 440.7,250.7 442.0,251.3 C443.3,251.9 444.4,252.2 446.0,252.5 C447.6,252.8 449.8,253.2 451.6,253.4 C453.4,253.7 455.0,253.7 457.0,254.0 C459.0,254.3 461.3,254.6 463.5,255.0 C465.7,255.4 468.0,255.8 470.0,256.2 C472.0,256.6 473.7,257.0 475.4,257.4 C477.1,257.8 478.8,258.2 480.0,258.6 C481.2,259.0 481.8,259.2 482.6,259.8 C483.5,260.4 484.7,261.6 485.1,262.0" fill="none" stroke="#000" stroke-width="2.0" stroke-linejoin="round" stroke-linecap="round" />
<path d="M293.6,326.8 C293.9,323.3 294.8,312.4 295.5,306.0 C296.2,299.6 296.8,296.3 297.8,288.2 C298.8,280.1 300.3,266.7 301.6,257.2 C302.9,247.7 304.2,238.2 305.5,231.3 C306.8,224.4 308.1,219.7 309.4,215.8 C310.7,211.9 312.2,209.8 313.3,208.1 C314.4,206.4 314.9,206.1 315.8,205.5 C316.8,204.9 317.7,204.8 319.0,204.6 C320.3,204.4 321.6,204.6 323.6,204.2 C325.7,203.8 329.2,202.9 331.3,202.4 C333.4,201.9 335.2,200.8 336.5,200.9 C337.8,201.0 338.2,201.3 339.1,202.9 C340.0,204.5 340.8,207.2 341.7,210.7 C342.6,214.1 343.4,219.7 344.3,223.6 C345.2,227.5 345.7,231.3 346.8,233.9 C347.9,236.5 349.2,238.0 350.7,239.1 C352.2,240.2 354.4,240.0 355.9,240.4 C357.4,240.8 358.3,241.0 359.8,241.7 C361.3,242.3 363.2,243.0 364.9,244.3 C366.6,245.6 368.4,247.7 370.1,249.4 C371.8,251.1 373.6,253.3 375.3,254.6 C377.0,255.9 377.4,256.7 380.4,257.2 C383.4,257.7 388.6,257.5 393.4,257.7 C398.1,257.9 404.5,258.1 408.9,258.5 C413.3,258.9 412.9,259.2 420.0,259.8 C427.1,260.4 440.8,261.1 451.6,262.0 C462.4,262.9 479.4,264.9 485.0,265.5" fill="none" stroke="#F07A28" stroke-width="2.0" stroke-linejoin="round" stroke-linecap="round" />
<line x1="411.00" y1="259.00" x2="426.50" y2="269.00" stroke="#F07A28" stroke-width="0.8" />
<text x="410.50" y="276.60" font-family="Liberation Serif" font-size="7.6" text-anchor="start" font-weight="bold" fill="#F07A28" stroke="#F07A28" stroke-width="0.2" textLength="64.5" lengthAdjust="spacingAndGlyphs" >R2.0H2CL3-analytical</text>
<rect x="39.6" y="372.1" width="182.1" height="129.3" fill="none" stroke="#222" stroke-width="1.0"/>
<line x1="39.60" y1="501.40" x2="42.80" y2="501.40" stroke="#222" stroke-width="0.8" />
<line x1="39.60" y1="490.62" x2="41.40" y2="490.62" stroke="#222" stroke-width="0.8" />
<line x1="39.60" y1="479.85" x2="42.80" y2="479.85" stroke="#222" stroke-width="0.8" />
<line x1="39.60" y1="469.07" x2="41.40" y2="469.07" stroke="#222" stroke-width="0.8" />
<line x1="39.60" y1="458.30" x2="42.80" y2="458.30" stroke="#222" stroke-width="0.8" />
<line x1="39.60" y1="447.52" x2="41.40" y2="447.52" stroke="#222" stroke-width="0.8" />
<line x1="39.60" y1="436.75" x2="42.80" y2="436.75" stroke="#222" stroke-width="0.8" />
<line x1="39.60" y1="425.97" x2="41.40" y2="425.97" stroke="#222" stroke-width="0.8" />
<line x1="39.60" y1="415.20" x2="42.80" y2="415.20" stroke="#222" stroke-width="0.8" />
<line x1="39.60" y1="404.42" x2="41.40" y2="404.42" stroke="#222" stroke-width="0.8" />
<line x1="39.60" y1="393.65" x2="42.80" y2="393.65" stroke="#222" stroke-width="0.8" />
<line x1="39.60" y1="382.88" x2="41.40" y2="382.88" stroke="#222" stroke-width="0.8" />
<line x1="39.60" y1="372.10" x2="42.80" y2="372.10" stroke="#222" stroke-width="0.8" />
<line x1="39.60" y1="501.40" x2="39.60" y2="498.20" stroke="#222" stroke-width="0.8" />
<line x1="57.81" y1="501.40" x2="57.81" y2="499.60" stroke="#222" stroke-width="0.8" />
<line x1="76.02" y1="501.40" x2="76.02" y2="498.20" stroke="#222" stroke-width="0.8" />
<line x1="94.23" y1="501.40" x2="94.23" y2="499.60" stroke="#222" stroke-width="0.8" />
<line x1="112.44" y1="501.40" x2="112.44" y2="498.20" stroke="#222" stroke-width="0.8" />
<line x1="130.65" y1="501.40" x2="130.65" y2="499.60" stroke="#222" stroke-width="0.8" />
<line x1="148.86" y1="501.40" x2="148.86" y2="498.20" stroke="#222" stroke-width="0.8" />
<line x1="167.07" y1="501.40" x2="167.07" y2="499.60" stroke="#222" stroke-width="0.8" />
<line x1="185.28" y1="501.40" x2="185.28" y2="498.20" stroke="#222" stroke-width="0.8" />
<line x1="203.49" y1="501.40" x2="203.49" y2="499.60" stroke="#222" stroke-width="0.8" />
<line x1="221.70" y1="501.40" x2="221.70" y2="498.20" stroke="#222" stroke-width="0.8" />
<text x="34.60" y="505.00" font-family="Liberation Serif" font-size="10.5" text-anchor="end" font-weight="normal" fill="#222" stroke="#222" stroke-width="0.2" textLength="5.3" lengthAdjust="spacingAndGlyphs" >0</text>
<text x="34.60" y="483.45" font-family="Liberation Serif" font-size="10.5" text-anchor="end" font-weight="normal" fill="#222" stroke="#222" stroke-width="0.2" textLength="10.6" lengthAdjust="spacingAndGlyphs" >10</text>
<text x="34.60" y="461.90" font-family="Liberation Serif" font-size="10.5" text-anchor="end" font-weight="normal" fill="#222" stroke="#222" stroke-width="0.2" textLength="10.6" lengthAdjust="spacingAndGlyphs" >20</text>
<text x="34.60" y="440.35" font-family="Liberation Serif" font-size="10.5" text-anchor="end" font-weight="normal" fill="#222" stroke="#222" stroke-width="0.2" textLength="10.6" lengthAdjust="spacingAndGlyphs" >30</text>
<text x="34.60" y="418.80" font-family="Liberation Serif" font-size="10.5" text-anchor="end" font-weight="normal" fill="#222" stroke="#222" stroke-width="0.2" textLength="10.6" lengthAdjust="spacingAndGlyphs" >40</text>
<text x="34.60" y="397.25" font-family="Liberation Serif" font-size="10.5" text-anchor="end" font-weight="normal" fill="#222" stroke="#222" stroke-width="0.2" textLength="10.6" lengthAdjust="spacingAndGlyphs" >50</text>
<text x="34.60" y="375.70" font-family="Liberation Serif" font-size="10.5" text-anchor="end" font-weight="normal" fill="#222" stroke="#222" stroke-width="0.2" textLength="10.6" lengthAdjust="spacingAndGlyphs" >60</text>
<text x="39.60" y="514.30" font-family="Liberation Serif" font-size="10" text-anchor="middle" font-weight="normal" fill="#222" stroke="#222" stroke-width="0.2" textLength="23.5" lengthAdjust="spacingAndGlyphs" >0.000</text>
<text x="76.02" y="514.30" font-family="Liberation Serif" font-size="10" text-anchor="middle" font-weight="normal" fill="#222" stroke="#222" stroke-width="0.2" textLength="23.5" lengthAdjust="spacingAndGlyphs" >0.005</text>
<text x="112.44" y="514.30" font-family="Liberation Serif" font-size="10" text-anchor="middle" font-weight="normal" fill="#222" stroke="#222" stroke-width="0.2" textLength="23.5" lengthAdjust="spacingAndGlyphs" >0.010</text>
<text x="148.86" y="514.30" font-family="Liberation Serif" font-size="10" text-anchor="middle" font-weight="normal" fill="#222" stroke="#222" stroke-width="0.2" textLength="23.5" lengthAdjust="spacingAndGlyphs" >0.015</text>
<text x="185.28" y="514.30" font-family="Liberation Serif" font-size="10" text-anchor="middle" font-weight="normal" fill="#222" stroke="#222" stroke-width="0.2" textLength="23.5" lengthAdjust="spacingAndGlyphs" >0.020</text>
<text x="221.70" y="514.30" font-family="Liberation Serif" font-size="10" text-anchor="middle" font-weight="normal" fill="#222" stroke="#222" stroke-width="0.2" textLength="23.5" lengthAdjust="spacingAndGlyphs" >0.025</text>
<text x="82.50" y="525.20" font-family="Liberation Serif" font-size="10.7" text-anchor="start" font-weight="normal" fill="#222" stroke="#222" stroke-width="0.2" textLength="96.2" lengthAdjust="spacingAndGlyphs" >Axial strain (mm/mm)</text>
<text x="120.00" y="545.00" font-family="Liberation Serif" font-size="12.5" text-anchor="middle" font-weight="normal" fill="#222" stroke="#222" stroke-width="0.2" >(e)</text>
<text transform="translate(15.6,442) rotate(-90)" font-family="Liberation Serif" font-size="10.5" text-anchor="middle" fill="#222" stroke="#222" stroke-width="0.2" textLength="78" lengthAdjust="spacingAndGlyphs">Axial stress (MPa)</text>
<line x1="98.00" y1="379.10" x2="118.60" y2="379.10" stroke="#000" stroke-width="0.9" stroke-dasharray="4,2,1.2,2"/>
<line x1="98.00" y1="388.30" x2="118.60" y2="388.30" stroke="#000" stroke-width="1.9" />
<line x1="98.00" y1="397.90" x2="118.60" y2="397.90" stroke="#2e2e2e" stroke-width="0.9" />
<text x="120.20" y="382.00" font-family="Liberation Serif" font-size="8.7" text-anchor="start" font-weight="normal" fill="#222" stroke="#222" stroke-width="0.2" textLength="44.5" lengthAdjust="spacingAndGlyphs" >R2.0H2ML0</text>
<text x="120.20" y="391.20" font-family="Liberation Serif" font-size="8.7" text-anchor="start" font-weight="normal" fill="#222" stroke="#222" stroke-width="0.2" textLength="44.5" lengthAdjust="spacingAndGlyphs" >R2.0H2ML4</text>
<text x="120.20" y="400.80" font-family="Liberation Serif" font-size="8.7" text-anchor="start" font-weight="normal" fill="#222" stroke="#222" stroke-width="0.2" textLength="44.5" lengthAdjust="spacingAndGlyphs" >R2.0H2CL4</text>
<path d="M73.5,501.4 Q80.8,456.7 90.4,416.0 C90.8,411.2 94.4,410.8 95.4,414.5 Q88.0,456.7 78.0,501.4" fill="none" stroke="#2e2e2e" stroke-width="0.85" stroke-linejoin="round" stroke-linecap="round" />
<path d="M79.0,501.4 Q86.2,456.2 95.9,415.0 C96.3,410.2 99.9,409.8 100.9,413.5 Q93.5,456.2 83.5,501.4" fill="none" stroke="#2e2e2e" stroke-width="0.85" stroke-linejoin="round" stroke-linecap="round" />
<path d="M86.0,501.4 Q93.2,455.7 102.9,414.0 C103.3,409.2 106.9,408.8 107.9,412.5 Q100.5,455.7 90.5,501.4" fill="none" stroke="#2e2e2e" stroke-width="0.85" stroke-linejoin="round" stroke-linecap="round" />
<path d="M95.7,501.4 Q103.0,454.7 112.6,412.0 C113.0,407.2 116.6,406.8 117.6,410.5 Q110.2,454.7 100.2,501.4" fill="none" stroke="#2e2e2e" stroke-width="0.85" stroke-linejoin="round" stroke-linecap="round" />
<path d="M104.1,501.4 Q111.3,453.9 121.0,410.5 C121.4,405.7 125.0,405.3 126.0,409.0 Q118.6,453.9 108.6,501.4" fill="none" stroke="#2e2e2e" stroke-width="0.85" stroke-linejoin="round" stroke-linecap="round" />
<path d="M116.9,501.4 Q124.2,453.4 133.8,409.5 C134.2,404.7 137.8,404.3 138.8,408.0 Q131.4,453.4 121.4,501.4" fill="none" stroke="#2e2e2e" stroke-width="0.85" stroke-linejoin="round" stroke-linecap="round" />
<path d="M126.5,501.4 Q133.8,452.9 143.4,408.5 C143.8,403.7 147.4,403.3 148.4,407.0 Q141.0,452.9 131.0,501.4" fill="none" stroke="#2e2e2e" stroke-width="0.85" stroke-linejoin="round" stroke-linecap="round" />
<path d="M136.0,501.4 Q143.2,452.7 152.9,408.0 C153.3,403.2 156.9,402.8 157.9,406.5 Q150.5,452.7 140.5,501.4" fill="none" stroke="#2e2e2e" stroke-width="0.85" stroke-linejoin="round" stroke-linecap="round" />
<path d="M145.6,501.4 Q152.8,451.9 162.5,406.5 C162.9,401.7 166.5,401.3 167.5,405.0 Q160.1,451.9 150.1,501.4" fill="none" stroke="#2e2e2e" stroke-width="0.85" stroke-linejoin="round" stroke-linecap="round" />
<path d="M155.1,501.4 Q162.3,450.9 172.0,404.5 C172.4,399.7 176.0,399.3 177.0,403.0 Q169.6,450.9 159.6,501.4" fill="none" stroke="#2e2e2e" stroke-width="0.85" stroke-linejoin="round" stroke-linecap="round" />
<path d="M163.1,501.4 Q170.3,450.4 180.0,403.5 C180.4,398.7 184.0,398.3 185.0,402.0 Q177.6,450.4 167.6,501.4" fill="none" stroke="#2e2e2e" stroke-width="0.85" stroke-linejoin="round" stroke-linecap="round" />
<path d="M186.0,400.0 C187.2,399.6 191.0,397.9 193.1,397.7 C195.2,397.5 196.8,397.6 198.6,398.7 C200.4,399.8 202.3,402.4 204.0,404.5 C205.7,406.6 207.5,408.7 209.0,411.0 C210.5,413.3 212.4,415.6 212.8,418.4 C213.2,421.2 212.2,423.6 211.5,428.0 C210.8,432.4 209.8,438.4 208.4,444.7 C207.0,451.0 204.8,458.7 203.0,466.0 C201.2,473.3 199.0,483.2 197.5,488.4 C196.0,493.6 194.8,495.7 194.2,497.2" fill="none" stroke="#2e2e2e" stroke-width="0.8" stroke-linejoin="round" stroke-linecap="round" />
<path d="M39.4,501.0 C39.8,498.3 41.1,491.5 42.0,485.0 C42.9,478.5 44.0,469.8 45.0,462.0 C46.0,454.2 47.0,445.8 48.0,438.0 C49.0,430.2 50.0,421.7 51.0,415.0 C52.0,408.3 53.0,402.8 54.0,398.0 C55.0,393.2 56.0,389.1 57.0,386.0 C58.0,382.9 59.0,381.1 60.0,379.5 C61.0,377.9 61.7,377.2 62.8,376.7 C63.9,376.1 65.2,375.9 66.4,376.2 C67.6,376.5 68.7,377.2 70.0,378.5 C71.3,379.8 72.7,382.1 74.0,384.0 C75.3,385.9 76.7,388.0 78.0,390.0 C79.3,392.0 80.7,393.8 82.0,396.0 C83.3,398.2 84.7,400.6 86.0,403.0 C87.3,405.4 88.8,409.3 89.7,410.7 C90.6,412.1 90.9,411.3 91.5,411.5 C92.1,411.7 92.9,411.7 93.2,411.7" fill="none" stroke="#2e2e2e" stroke-width="0.9" stroke-linejoin="round" stroke-linecap="round" />
<path d="M45.4,501.0 C46.2,495.8 48.4,480.2 50.0,470.0 C51.6,459.8 53.5,450.0 55.0,440.0 C56.5,430.0 57.9,418.3 59.0,410.0 C60.1,401.7 60.9,395.3 61.5,390.0 C62.1,384.7 62.3,380.0 62.5,378.0" fill="none" stroke="#2e2e2e" stroke-width="0.8" stroke-linejoin="round" stroke-linecap="round" />
<path d="M52.7,501.0 C53.4,495.8 55.6,480.2 57.0,470.0 C58.4,459.8 59.8,450.0 61.0,440.0 C62.2,430.0 63.2,418.3 64.0,410.0 C64.8,401.7 65.1,395.5 65.5,390.0 C65.9,384.5 66.1,379.2 66.2,377.0" fill="none" stroke="#2e2e2e" stroke-width="0.8" stroke-linejoin="round" stroke-linecap="round" />
<path d="M39.4,501.0 C39.8,498.2 41.1,490.5 42.0,484.0 C42.9,477.5 43.9,469.3 45.0,462.0 C46.1,454.7 47.3,447.0 48.5,440.0 C49.7,433.0 50.9,426.0 52.0,420.0 C53.1,414.0 54.3,407.0 55.0,404.0 C55.7,401.0 56.2,402.2 56.4,401.9" fill="none" stroke="#000" stroke-width="0.9" stroke-linejoin="round" stroke-linecap="round" />
<line x1="56.40" y1="401.90" x2="90.70" y2="469.40" stroke="#000" stroke-width="0.9" stroke-dasharray="4,2,1.2,2"/>
<path d="M39.4,501.5 C39.8,497.9 41.1,487.2 42.0,480.0 C42.9,472.8 43.6,465.7 44.5,458.0 C45.4,450.3 46.2,441.3 47.2,434.0 C48.2,426.7 49.5,419.7 50.5,414.0 C51.5,408.3 52.3,404.2 53.5,400.0 C54.7,395.8 56.1,391.9 57.6,389.0 C59.1,386.1 60.9,384.0 62.5,382.5 C64.1,381.0 65.6,380.4 67.4,379.8 C69.2,379.2 71.6,378.9 73.2,379.0 C74.8,379.1 75.8,379.6 77.3,380.5 C78.8,381.4 80.8,382.8 82.2,384.5 C83.6,386.2 84.7,388.5 85.9,390.5 C87.1,392.5 88.4,394.8 89.5,396.5 C90.6,398.2 91.0,399.4 92.3,400.7 C93.6,402.0 94.1,403.9 97.3,404.5 C100.5,405.1 105.8,404.4 111.6,404.3 C117.4,404.2 124.9,404.3 131.9,404.2 C138.9,404.1 148.2,403.8 153.7,403.6 C159.2,403.4 160.7,403.4 164.7,403.1 C168.7,402.8 174.5,401.4 177.8,402.0 C181.1,402.6 182.5,405.4 184.3,406.4 C186.1,407.4 186.5,407.6 188.7,407.9 C190.9,408.1 193.8,407.8 197.5,407.9 C201.2,408.0 207.7,408.4 210.6,408.6 C213.5,408.8 213.3,408.8 215.0,409.2 C216.7,409.6 220.0,410.9 221.0,411.2" fill="none" stroke="#000" stroke-width="1.9" stroke-linejoin="round" stroke-linecap="round" />
<path d="M39.6,501.0 C39.7,500.4 39.6,503.0 40.1,497.3 C40.6,491.6 41.5,477.0 42.6,466.8 C43.7,456.6 45.2,445.6 46.5,436.3 C47.8,427.0 49.0,418.0 50.3,410.8 C51.6,403.6 52.8,398.1 54.1,393.0 C55.4,387.9 56.6,383.3 57.9,380.3 C59.2,377.3 60.0,376.3 61.7,375.2 C63.4,374.1 65.8,374.5 68.1,373.9 C70.4,373.3 73.6,372.0 75.7,371.4 C77.8,370.8 79.5,369.9 80.8,370.1 C82.1,370.3 82.6,370.5 83.4,372.6 C84.2,374.7 85.1,379.4 85.9,382.8 C86.7,386.2 87.3,390.2 88.4,393.0 C89.5,395.8 90.8,397.9 92.3,399.4 C93.8,400.9 95.6,401.0 97.3,401.9 C99.0,402.8 100.7,402.6 102.4,404.5 C104.1,406.4 106.0,410.4 107.5,413.4 C109.0,416.4 109.8,419.8 111.3,422.3 C112.8,424.8 114.5,427.2 116.4,428.6 C118.3,430.0 118.4,430.0 122.8,430.5 C127.2,431.0 135.8,431.0 142.8,431.5 C149.8,432.0 157.4,433.0 164.7,433.7 C172.0,434.4 177.1,435.0 186.5,435.9 C195.9,436.8 215.2,438.6 221.0,439.2" fill="none" stroke="#F07A28" stroke-width="1.9" stroke-linejoin="round" stroke-linecap="round" />
<line x1="162.60" y1="434.10" x2="187.70" y2="444.40" stroke="#F07A28" stroke-width="0.8" />
<text x="171.30" y="451.60" font-family="Liberation Serif" font-size="8" text-anchor="start" font-weight="bold" fill="#F07A28" stroke="#F07A28" stroke-width="0.2" textLength="35" lengthAdjust="spacingAndGlyphs" >R2.0H2CL4 -</text>
<text x="171.30" y="458.80" font-family="Liberation Serif" font-size="8" text-anchor="start" font-weight="bold" fill="#F07A28" stroke="#F07A28" stroke-width="0.2" textLength="29.5" lengthAdjust="spacingAndGlyphs" >analytical</text>
<line x1="293.70" y1="499.00" x2="482.60" y2="499.00" stroke="#222" stroke-width="1.0" />
<line x1="293.70" y1="499.00" x2="293.70" y2="501.80" stroke="#222" stroke-width="0.9" />
<line x1="356.60" y1="499.00" x2="356.60" y2="501.80" stroke="#222" stroke-width="0.9" />
<line x1="419.50" y1="499.00" x2="419.50" y2="501.80" stroke="#222" stroke-width="0.9" />
<line x1="482.40" y1="499.00" x2="482.40" y2="501.80" stroke="#222" stroke-width="0.9" />
<line x1="293.70" y1="384.20" x2="293.70" y2="499.00" stroke="#222" stroke-width="1.0" />
<line x1="290.60" y1="499.00" x2="293.70" y2="499.00" stroke="#222" stroke-width="0.9" />
<text x="287.60" y="502.10" font-family="Liberation Serif" font-size="9.1" text-anchor="end" font-weight="normal" fill="#222" stroke="#222" stroke-width="0.2" >0</text>
<line x1="290.60" y1="479.92" x2="293.70" y2="479.92" stroke="#222" stroke-width="0.9" />
<text x="287.60" y="483.02" font-family="Liberation Serif" font-size="9.1" text-anchor="end" font-weight="normal" fill="#222" stroke="#222" stroke-width="0.2" >10</text>
<line x1="290.60" y1="460.84" x2="293.70" y2="460.84" stroke="#222" stroke-width="0.9" />
<text x="287.60" y="463.94" font-family="Liberation Serif" font-size="9.1" text-anchor="end" font-weight="normal" fill="#222" stroke="#222" stroke-width="0.2" >20</text>
<line x1="290.60" y1="441.76" x2="293.70" y2="441.76" stroke="#222" stroke-width="0.9" />
<text x="287.60" y="444.86" font-family="Liberation Serif" font-size="9.1" text-anchor="end" font-weight="normal" fill="#222" stroke="#222" stroke-width="0.2" >30</text>
<line x1="290.60" y1="422.68" x2="293.70" y2="422.68" stroke="#222" stroke-width="0.9" />
<text x="287.60" y="425.78" font-family="Liberation Serif" font-size="9.1" text-anchor="end" font-weight="normal" fill="#222" stroke="#222" stroke-width="0.2" >40</text>
<line x1="290.60" y1="403.60" x2="293.70" y2="403.60" stroke="#222" stroke-width="0.9" />
<text x="287.60" y="406.70" font-family="Liberation Serif" font-size="9.1" text-anchor="end" font-weight="normal" fill="#222" stroke="#222" stroke-width="0.2" >50</text>
<line x1="290.60" y1="384.52" x2="293.70" y2="384.52" stroke="#222" stroke-width="0.9" />
<text x="287.60" y="387.62" font-family="Liberation Serif" font-size="9.1" text-anchor="end" font-weight="normal" fill="#222" stroke="#222" stroke-width="0.2" >60</text>
<text x="293.70" y="511.20" font-family="Liberation Serif" font-size="8.6" text-anchor="middle" font-weight="normal" fill="#222" stroke="#222" stroke-width="0.2" >0.000</text>
<text x="356.60" y="511.20" font-family="Liberation Serif" font-size="8.6" text-anchor="middle" font-weight="normal" fill="#222" stroke="#222" stroke-width="0.2" >0.005</text>
<text x="419.50" y="511.20" font-family="Liberation Serif" font-size="8.6" text-anchor="middle" font-weight="normal" fill="#222" stroke="#222" stroke-width="0.2" >0.010</text>
<text x="482.40" y="511.20" font-family="Liberation Serif" font-size="8.6" text-anchor="middle" font-weight="normal" fill="#222" stroke="#222" stroke-width="0.2" >0.015</text>
<text x="342.30" y="526.20" font-family="Liberation Serif" font-size="10.8" text-anchor="start" font-weight="bold" fill="#222" stroke="#222" stroke-width="0.2" >Axial Strain, ε<tspan font-size="7.5" dy="1.8">a</tspan></text>
<text x="377.40" y="545.00" font-family="Liberation Serif" font-size="12.5" text-anchor="middle" font-weight="normal" fill="#222" stroke="#222" stroke-width="0.2" >(f)</text>
<text transform="translate(270.1,443) rotate(-90)" font-family="Liberation Serif" font-size="10.35" font-weight="bold" text-anchor="middle" fill="#222" stroke="#222" stroke-width="0.2">Axial Stress, f<tspan font-size="7" dy="1.8">a</tspan><tspan dy="-1.8"> (MPa)</tspan></text>
<use href="#bk" transform="matrix(0.9737,0,0,0.966,11.13,368.2)"/>
<path d="M294.5,498.0 C294.7,497.8 294.9,500.5 295.5,496.5 C296.1,492.5 297.1,480.6 298.0,474.0 C298.9,467.4 299.6,462.6 300.6,456.8 C301.6,451.1 302.7,444.4 304.1,439.5 C305.6,434.6 307.6,430.5 309.3,427.5 C311.0,424.5 312.8,423.0 314.5,421.4 C316.2,419.8 317.9,418.8 319.6,418.0 C321.3,417.2 324.1,416.0 324.8,416.7 C325.5,417.4 324.3,418.5 324.0,422.3 C323.7,426.1 323.4,433.8 323.1,439.5 C322.8,445.2 322.6,451.1 322.2,456.8 C321.8,462.6 321.1,469.1 320.5,474.0 C319.9,478.9 319.2,483.3 318.8,486.2 C318.4,489.1 318.6,490.2 317.9,491.4 C317.2,492.6 316.5,492.9 314.5,493.6 C312.5,494.3 307.4,496.1 305.8,495.7 C304.2,495.3 305.0,495.0 305.0,491.4 C305.0,487.8 305.4,479.8 305.8,474.0 C306.2,468.2 306.9,462.0 307.5,456.8 C308.1,451.6 308.4,447.0 309.3,443.0 C310.2,439.0 311.3,435.8 312.7,432.6 C314.1,429.4 315.9,426.6 317.9,424.0 C319.9,421.4 323.6,418.2 324.8,417.0" fill="none" stroke="#F07A28" stroke-width="1.9" stroke-linejoin="round" stroke-linecap="round" />
<path d="M324.8,416.7 C325.7,416.6 328.0,416.5 330.0,416.4 C332.0,416.3 335.6,415.2 336.9,416.2 C338.2,417.2 337.9,418.4 337.8,422.3 C337.7,426.2 336.6,433.8 336.0,439.5 C335.4,445.2 335.2,451.1 334.3,456.8 C333.4,462.6 331.9,469.4 330.9,474.0 C329.9,478.6 329.0,481.8 328.3,484.4 C327.6,487.0 327.4,488.4 326.5,489.6 C325.6,490.8 324.8,490.5 323.1,491.4 C321.4,492.3 317.5,495.1 316.2,494.8 C314.9,494.5 315.3,493.1 315.3,489.6 C315.3,486.1 315.5,479.5 316.2,474.0 C316.9,468.5 318.6,462.6 319.6,456.8 C320.6,451.1 321.5,444.7 322.2,439.5 C322.9,434.3 323.6,429.4 324.0,425.7 C324.4,421.9 324.7,418.4 324.8,417.0" fill="none" stroke="#F07A28" stroke-width="1.9" stroke-linejoin="round" stroke-linecap="round" />
<path d="M336.9,434.4 C337.2,433.3 338.1,429.7 339.0,428.0 C339.9,426.3 340.4,425.4 342.1,424.0 C343.8,422.6 346.9,420.8 349.0,419.7 C351.1,418.6 352.8,418.2 355.0,417.5 C357.2,416.8 358.7,416.0 362.0,415.3 C365.3,414.6 369.9,414.0 375.0,413.2 C380.1,412.4 387.8,411.2 392.8,410.4 C397.8,409.6 400.4,409.1 405.0,408.3 C409.6,407.5 418.0,405.2 420.6,405.8 C423.2,406.4 420.8,411.0 420.8,412.0" fill="none" stroke="#F07A28" stroke-width="1.9" stroke-linejoin="round" stroke-linecap="round" />
<line x1="421.00" y1="379.60" x2="395.00" y2="407.10" stroke="#F07A28" stroke-width="0.8" />
<text x="406.40" y="379.30" font-family="Liberation Serif" font-size="8" text-anchor="start" font-weight="bold" fill="#F07A28" stroke="#F07A28" stroke-width="0.2" textLength="69" lengthAdjust="spacingAndGlyphs" >BS2C3C - analytical</text>
<text x="369.80" y="386.90" font-family="Liberation Serif" font-size="9.3" text-anchor="start" font-weight="normal" fill="#222" stroke="#222" stroke-width="0.2" textLength="33.4" lengthAdjust="spacingAndGlyphs" >BS2C5C</text>
<text x="423.60" y="400.80" font-family="Liberation Serif" font-size="9.3" text-anchor="start" font-weight="normal" fill="#222" stroke="#222" stroke-width="0.2" textLength="31.4" lengthAdjust="spacingAndGlyphs" >BS2C3C</text>
<text x="432.40" y="433.20" font-family="Liberation Serif" font-size="9.3" text-anchor="start" font-weight="normal" fill="#222" stroke="#222" stroke-width="0.2" textLength="32.4" lengthAdjust="spacingAndGlyphs" >BS2C1C</text>
<text x="410.60" y="457.50" font-family="Liberation Serif" font-size="9.3" text-anchor="start" font-weight="normal" fill="#222" stroke="#222" stroke-width="0.2" textLength="21.8" lengthAdjust="spacingAndGlyphs" >BS2C</text>
</svg>
</body></html>
